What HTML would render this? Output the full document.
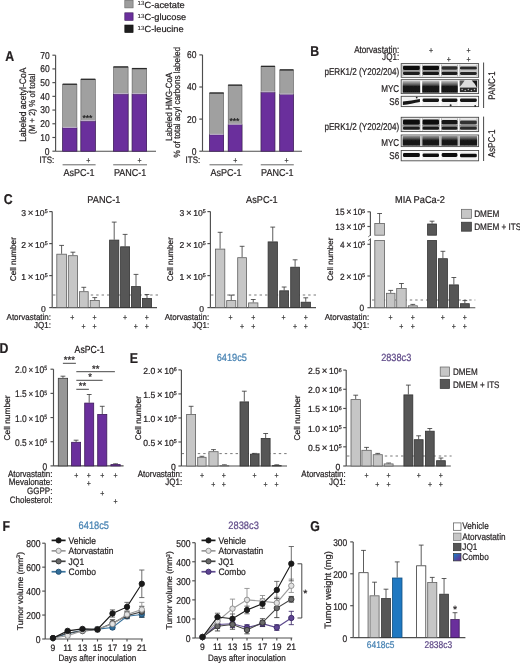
<!DOCTYPE html>
<html><head><meta charset="utf-8"><title>Figure</title>
<style>
html,body{margin:0;padding:0;background:#fff;}
body{width:520px;height:664px;overflow:hidden;}
svg{display:block;font-family:"Liberation Sans", Arial, sans-serif;text-rendering:geometricPrecision;}
</style></head><body>
<svg width="520" height="664" viewBox="0 0 520 664">
<rect width="520" height="664" fill="#fff"/>
<text transform="translate(5.20 60.50) scale(0.86 1)" font-size="14.30" text-anchor="start" fill="#231f20" stroke="#231f20" stroke-width="0.22" font-weight="bold">A</text>
<rect x="124.80" y="0.30" width="8.30" height="7.60" fill="#9d9d9d" stroke="#666" stroke-width="0.6"/>
<text transform="translate(137.60 7.70) scale(1.04 1)" font-size="8.94" text-anchor="start" fill="#231f20" stroke="#231f20" stroke-width="0.22"><tspan font-size="66%" dy="-0.40em" stroke-width="0.1">13</tspan><tspan dy="0.264em">C-acetate</tspan></text>
<rect x="124.80" y="12.80" width="8.30" height="7.60" fill="#6a2f9c" stroke="#3d1a5a" stroke-width="0.6"/>
<text transform="translate(137.60 20.20) scale(1.04 1)" font-size="8.94" text-anchor="start" fill="#231f20" stroke="#231f20" stroke-width="0.22"><tspan font-size="66%" dy="-0.40em" stroke-width="0.1">13</tspan><tspan dy="0.264em">C-glucose</tspan></text>
<rect x="124.80" y="25.00" width="8.30" height="7.60" fill="#1e1e1e" stroke="#111" stroke-width="0.6"/>
<text transform="translate(137.60 32.40) scale(1.04 1)" font-size="8.94" text-anchor="start" fill="#231f20" stroke="#231f20" stroke-width="0.22"><tspan font-size="66%" dy="-0.40em" stroke-width="0.1">13</tspan><tspan dy="0.264em">C-leucine</tspan></text>
<line x1="55.60" y1="55.20" x2="55.60" y2="151.20" stroke="#4e4e4e" stroke-width="1.15"/>
<line x1="52.40" y1="151.20" x2="55.60" y2="151.20" stroke="#4e4e4e" stroke-width="1.15"/>
<text transform="translate(49.60 154.60) scale(0.86 1)" font-size="9.88" text-anchor="end" fill="#231f20" stroke="#231f20" stroke-width="0.22">0</text>
<line x1="52.40" y1="137.49" x2="55.60" y2="137.49" stroke="#4e4e4e" stroke-width="1.15"/>
<text transform="translate(49.60 140.89) scale(0.86 1)" font-size="9.88" text-anchor="end" fill="#231f20" stroke="#231f20" stroke-width="0.22">10</text>
<line x1="52.40" y1="123.77" x2="55.60" y2="123.77" stroke="#4e4e4e" stroke-width="1.15"/>
<text transform="translate(49.60 127.17) scale(0.86 1)" font-size="9.88" text-anchor="end" fill="#231f20" stroke="#231f20" stroke-width="0.22">20</text>
<line x1="52.40" y1="110.06" x2="55.60" y2="110.06" stroke="#4e4e4e" stroke-width="1.15"/>
<text transform="translate(49.60 113.46) scale(0.86 1)" font-size="9.88" text-anchor="end" fill="#231f20" stroke="#231f20" stroke-width="0.22">30</text>
<line x1="52.40" y1="96.34" x2="55.60" y2="96.34" stroke="#4e4e4e" stroke-width="1.15"/>
<text transform="translate(49.60 99.74) scale(0.86 1)" font-size="9.88" text-anchor="end" fill="#231f20" stroke="#231f20" stroke-width="0.22">40</text>
<line x1="52.40" y1="82.63" x2="55.60" y2="82.63" stroke="#4e4e4e" stroke-width="1.15"/>
<text transform="translate(49.60 86.03) scale(0.86 1)" font-size="9.88" text-anchor="end" fill="#231f20" stroke="#231f20" stroke-width="0.22">50</text>
<line x1="52.40" y1="68.92" x2="55.60" y2="68.92" stroke="#4e4e4e" stroke-width="1.15"/>
<text transform="translate(49.60 72.32) scale(0.86 1)" font-size="9.88" text-anchor="end" fill="#231f20" stroke="#231f20" stroke-width="0.22">60</text>
<line x1="52.40" y1="55.20" x2="55.60" y2="55.20" stroke="#4e4e4e" stroke-width="1.15"/>
<text transform="translate(49.60 58.60) scale(0.86 1)" font-size="9.88" text-anchor="end" fill="#231f20" stroke="#231f20" stroke-width="0.22">70</text>
<line x1="55.60" y1="151.20" x2="156.00" y2="151.20" stroke="#4e4e4e" stroke-width="1.15"/>
<rect x="62.70" y="84.30" width="14.20" height="66.90" fill="#a0a0a0" stroke="#5a5a5a" stroke-width="0.6"/>
<rect x="62.70" y="127.89" width="14.20" height="23.31" fill="#6a2f9c" stroke="#3d1a5a" stroke-width="0.6"/>
<line x1="62.90" y1="127.39" x2="76.70" y2="127.39" stroke="#c4b8d0" stroke-width="1.0"/>
<line x1="62.70" y1="84.20" x2="76.90" y2="84.20" stroke="#2a2a2a" stroke-width="1.3"/>
<rect x="80.90" y="79.36" width="14.40" height="71.84" fill="#a0a0a0" stroke="#5a5a5a" stroke-width="0.6"/>
<rect x="80.90" y="121.17" width="14.40" height="30.03" fill="#6a2f9c" stroke="#3d1a5a" stroke-width="0.6"/>
<line x1="81.10" y1="120.67" x2="95.10" y2="120.67" stroke="#c4b8d0" stroke-width="1.0"/>
<line x1="80.90" y1="79.26" x2="95.30" y2="79.26" stroke="#2a2a2a" stroke-width="1.3"/>
<rect x="113.50" y="67.02" width="14.60" height="84.18" fill="#a0a0a0" stroke="#5a5a5a" stroke-width="0.6"/>
<rect x="113.50" y="94.15" width="14.60" height="57.05" fill="#6a2f9c" stroke="#3d1a5a" stroke-width="0.6"/>
<line x1="113.70" y1="93.65" x2="127.90" y2="93.65" stroke="#c4b8d0" stroke-width="1.0"/>
<line x1="113.50" y1="66.92" x2="128.10" y2="66.92" stroke="#2a2a2a" stroke-width="1.3"/>
<rect x="132.10" y="68.67" width="14.60" height="82.53" fill="#a0a0a0" stroke="#5a5a5a" stroke-width="0.6"/>
<rect x="132.10" y="94.15" width="14.60" height="57.05" fill="#6a2f9c" stroke="#3d1a5a" stroke-width="0.6"/>
<line x1="132.30" y1="93.65" x2="146.50" y2="93.65" stroke="#c4b8d0" stroke-width="1.0"/>
<line x1="132.10" y1="68.57" x2="146.70" y2="68.57" stroke="#2a2a2a" stroke-width="1.3"/>
<text transform="translate(54.20 162.60) scale(0.86 1)" font-size="9.30" text-anchor="end" fill="#231f20" stroke="#231f20" stroke-width="0.22">ITS:</text>
<text transform="translate(88.20 163.30) scale(0.86 1)" font-size="8.14" text-anchor="middle" fill="#333" stroke="#333" stroke-width="0.22">+</text>
<line x1="62.60" y1="164.80" x2="95.60" y2="164.80" stroke="#555" stroke-width="0.9"/>
<text transform="translate(79.10 176.00) scale(0.9 1)" font-size="10.00" text-anchor="middle" fill="#231f20" stroke="#231f20" stroke-width="0.22">AsPC-1</text>
<text transform="translate(139.60 163.30) scale(0.86 1)" font-size="8.14" text-anchor="middle" fill="#333" stroke="#333" stroke-width="0.22">+</text>
<line x1="113.20" y1="164.80" x2="147.00" y2="164.80" stroke="#555" stroke-width="0.9"/>
<text transform="translate(130.10 176.00) scale(0.9 1)" font-size="10.00" text-anchor="middle" fill="#231f20" stroke="#231f20" stroke-width="0.22">PANC-1</text>
<text transform="translate(26.40 104.70) rotate(-90) scale(0.9 1)" font-size="9.44" text-anchor="middle" fill="#231f20" stroke="#231f20" stroke-width="0.22">Labeled acetyl-CoA</text>
<text transform="translate(34.60 103.90) rotate(-90) scale(0.9 1)" font-size="8.78" text-anchor="middle" fill="#231f20" stroke="#231f20" stroke-width="0.22">(M + 2) % of total</text>
<text transform="translate(87.40 120.60) scale(1.0 1)" font-size="8.60" text-anchor="middle" fill="#1e1e1e" stroke="#1e1e1e" stroke-width="0.22">***</text>
<line x1="202.50" y1="54.90" x2="202.50" y2="151.20" stroke="#4e4e4e" stroke-width="1.15"/>
<line x1="199.30" y1="151.20" x2="202.50" y2="151.20" stroke="#4e4e4e" stroke-width="1.15"/>
<text transform="translate(196.50 154.60) scale(0.86 1)" font-size="9.88" text-anchor="end" fill="#231f20" stroke="#231f20" stroke-width="0.22">0</text>
<line x1="199.30" y1="119.10" x2="202.50" y2="119.10" stroke="#4e4e4e" stroke-width="1.15"/>
<text transform="translate(196.50 122.50) scale(0.86 1)" font-size="9.88" text-anchor="end" fill="#231f20" stroke="#231f20" stroke-width="0.22">20</text>
<line x1="199.30" y1="87.00" x2="202.50" y2="87.00" stroke="#4e4e4e" stroke-width="1.15"/>
<text transform="translate(196.50 90.40) scale(0.86 1)" font-size="9.88" text-anchor="end" fill="#231f20" stroke="#231f20" stroke-width="0.22">40</text>
<line x1="199.30" y1="54.90" x2="202.50" y2="54.90" stroke="#4e4e4e" stroke-width="1.15"/>
<text transform="translate(196.50 58.30) scale(0.86 1)" font-size="9.88" text-anchor="end" fill="#231f20" stroke="#231f20" stroke-width="0.22">60</text>
<line x1="202.50" y1="151.20" x2="302.00" y2="151.20" stroke="#4e4e4e" stroke-width="1.15"/>
<rect x="209.60" y="93.08" width="14.10" height="58.12" fill="#a0a0a0" stroke="#5a5a5a" stroke-width="0.6"/>
<rect x="209.60" y="134.83" width="14.10" height="16.37" fill="#6a2f9c" stroke="#3d1a5a" stroke-width="0.6"/>
<line x1="209.80" y1="134.33" x2="223.50" y2="134.33" stroke="#c4b8d0" stroke-width="1.0"/>
<line x1="209.60" y1="92.98" x2="223.70" y2="92.98" stroke="#2a2a2a" stroke-width="1.3"/>
<rect x="228.20" y="85.21" width="13.80" height="65.99" fill="#a0a0a0" stroke="#5a5a5a" stroke-width="0.6"/>
<rect x="228.20" y="124.72" width="13.80" height="26.48" fill="#6a2f9c" stroke="#3d1a5a" stroke-width="0.6"/>
<line x1="228.40" y1="124.22" x2="241.80" y2="124.22" stroke="#c4b8d0" stroke-width="1.0"/>
<line x1="228.20" y1="85.11" x2="242.00" y2="85.11" stroke="#2a2a2a" stroke-width="1.3"/>
<rect x="261.05" y="66.43" width="13.85" height="84.77" fill="#a0a0a0" stroke="#5a5a5a" stroke-width="0.6"/>
<rect x="261.05" y="92.30" width="13.85" height="58.90" fill="#6a2f9c" stroke="#3d1a5a" stroke-width="0.6"/>
<line x1="261.25" y1="91.80" x2="274.70" y2="91.80" stroke="#c4b8d0" stroke-width="1.0"/>
<line x1="261.05" y1="66.33" x2="274.90" y2="66.33" stroke="#2a2a2a" stroke-width="1.3"/>
<rect x="279.80" y="69.97" width="13.70" height="81.23" fill="#a0a0a0" stroke="#5a5a5a" stroke-width="0.6"/>
<rect x="279.80" y="94.54" width="13.70" height="56.66" fill="#6a2f9c" stroke="#3d1a5a" stroke-width="0.6"/>
<line x1="280.00" y1="94.04" x2="293.30" y2="94.04" stroke="#c4b8d0" stroke-width="1.0"/>
<line x1="279.80" y1="69.87" x2="293.50" y2="69.87" stroke="#2a2a2a" stroke-width="1.3"/>
<text transform="translate(200.20 162.60) scale(0.86 1)" font-size="9.30" text-anchor="end" fill="#231f20" stroke="#231f20" stroke-width="0.22">ITS:</text>
<text transform="translate(235.20 163.30) scale(0.86 1)" font-size="8.14" text-anchor="middle" fill="#333" stroke="#333" stroke-width="0.22">+</text>
<line x1="209.50" y1="164.80" x2="242.50" y2="164.80" stroke="#555" stroke-width="0.9"/>
<text transform="translate(226.00 176.00) scale(0.9 1)" font-size="10.00" text-anchor="middle" fill="#231f20" stroke="#231f20" stroke-width="0.22">AsPC-1</text>
<text transform="translate(286.50 163.30) scale(0.86 1)" font-size="8.14" text-anchor="middle" fill="#333" stroke="#333" stroke-width="0.22">+</text>
<line x1="260.75" y1="164.80" x2="293.80" y2="164.80" stroke="#555" stroke-width="0.9"/>
<text transform="translate(277.27 176.00) scale(0.9 1)" font-size="10.00" text-anchor="middle" fill="#231f20" stroke="#231f20" stroke-width="0.22">PANC-1</text>
<text transform="translate(171.80 106.80) rotate(-90) scale(0.9 1)" font-size="9.00" text-anchor="middle" fill="#231f20" stroke="#231f20" stroke-width="0.22">Labeled HMG-CoA</text>
<text transform="translate(180.00 102.20) rotate(-90) scale(0.9 1)" font-size="9.06" text-anchor="middle" fill="#231f20" stroke="#231f20" stroke-width="0.22">% of total acyl carbons labeled</text>
<text transform="translate(234.40 124.20) scale(1.0 1)" font-size="8.60" text-anchor="middle" fill="#1e1e1e" stroke="#1e1e1e" stroke-width="0.22">***</text>
<text transform="translate(310.20 55.50) scale(0.86 1)" font-size="14.30" text-anchor="start" fill="#231f20" stroke="#231f20" stroke-width="0.22" font-weight="bold">B</text>
<text transform="translate(399.20 53.20) scale(0.82 1)" font-size="9.88" text-anchor="end" fill="#231f20" stroke="#231f20" stroke-width="0.22">Atorvastatin:</text>
<text transform="translate(399.20 60.40) scale(0.82 1)" font-size="9.88" text-anchor="end" fill="#231f20" stroke="#231f20" stroke-width="0.22">JQ1:</text>
<text transform="translate(431.00 53.40) scale(0.86 1)" font-size="8.14" text-anchor="middle" fill="#333" stroke="#333" stroke-width="0.22">+</text>
<text transform="translate(468.50 53.40) scale(0.86 1)" font-size="8.14" text-anchor="middle" fill="#333" stroke="#333" stroke-width="0.22">+</text>
<text transform="translate(448.90 62.10) scale(0.86 1)" font-size="8.14" text-anchor="middle" fill="#333" stroke="#333" stroke-width="0.22">+</text>
<text transform="translate(468.50 62.10) scale(0.86 1)" font-size="8.14" text-anchor="middle" fill="#333" stroke="#333" stroke-width="0.22">+</text>
<defs><filter id="bl" x="-5%" y="-20%" width="110%" height="140%"><feGaussianBlur stdDeviation="0.45"/></filter><linearGradient id="mycg" x1="0" y1="0" x2="0" y2="1"><stop offset="0" stop-color="#c8c8c8"/><stop offset="0.35" stop-color="#555"/><stop offset="0.5" stop-color="#141414"/><stop offset="1" stop-color="#111"/></linearGradient><linearGradient id="mycg2" x1="0" y1="0" x2="0" y2="1"><stop offset="0" stop-color="#9a9a9a"/><stop offset="0.3" stop-color="#4a4a4a"/><stop offset="0.45" stop-color="#1a1a1a"/><stop offset="1" stop-color="#161616"/></linearGradient></defs>
<rect x="401.20" y="63.60" width="77.40" height="13.70" fill="#ffffff" stroke="#4a4a4a" stroke-width="0.9"/>
<g filter="url(#bl)">
<rect x="402.60" y="64.60" width="17.60" height="11.70" fill="#e2e2e2"/>
<line x1="402.80" y1="64.60" x2="402.80" y2="76.30" stroke="#777" stroke-width="0.5"/>
<line x1="420.00" y1="64.60" x2="420.00" y2="76.30" stroke="#777" stroke-width="0.5"/>
<rect x="402.60" y="69.80" width="17.60" height="2.00" fill="#9a9a9a"/>
<rect x="403.00" y="65.80" width="16.80" height="4.20" rx="1.3" fill="#111"/>
<rect x="403.00" y="71.70" width="16.80" height="3.20" rx="1.3" fill="#1a1a1a"/>
<rect x="422.20" y="64.60" width="17.20" height="11.70" fill="#e2e2e2"/>
<line x1="422.40" y1="64.60" x2="422.40" y2="76.30" stroke="#777" stroke-width="0.5"/>
<line x1="439.20" y1="64.60" x2="439.20" y2="76.30" stroke="#777" stroke-width="0.5"/>
<rect x="422.20" y="69.80" width="17.20" height="2.00" fill="#949494"/>
<rect x="422.60" y="65.70" width="16.40" height="4.40" rx="1.3" fill="#0e0e0e"/>
<rect x="422.60" y="71.65" width="16.40" height="3.30" rx="1.3" fill="#161616"/>
<rect x="441.30" y="64.60" width="16.50" height="11.70" fill="#e2e2e2"/>
<line x1="441.50" y1="64.60" x2="441.50" y2="76.30" stroke="#777" stroke-width="0.5"/>
<line x1="457.60" y1="64.60" x2="457.60" y2="76.30" stroke="#777" stroke-width="0.5"/>
<rect x="441.30" y="69.80" width="16.50" height="2.00" fill="#b0b0b0"/>
<rect x="441.70" y="66.20" width="15.70" height="3.60" rx="1.3" fill="#2e2e2e"/>
<rect x="441.70" y="71.65" width="15.70" height="3.30" rx="1.3" fill="#1e1e1e"/>
<rect x="459.60" y="64.60" width="17.60" height="11.70" fill="#e2e2e2"/>
<line x1="459.80" y1="64.60" x2="459.80" y2="76.30" stroke="#777" stroke-width="0.5"/>
<line x1="477.00" y1="64.60" x2="477.00" y2="76.30" stroke="#777" stroke-width="0.5"/>
<rect x="459.60" y="69.80" width="17.60" height="2.00" fill="#c0c0c0"/>
<rect x="460.00" y="66.60" width="16.80" height="3.00" rx="1.3" fill="#2a2a2a"/>
<rect x="460.00" y="71.90" width="16.80" height="3.00" rx="1.3" fill="#262626"/>
</g>
<text transform="translate(399.20 75.40) scale(0.82 1)" font-size="9.88" text-anchor="end" fill="#231f20" stroke="#231f20" stroke-width="0.22">pERK1/2 (Y202/204)</text>
<rect x="401.20" y="79.70" width="77.40" height="13.90" fill="#ffffff" stroke="#4a4a4a" stroke-width="0.9"/>
<g filter="url(#bl)">
<rect x="402.60" y="80.60" width="17.60" height="12.10" fill="url(#mycg)"/>
<rect x="422.20" y="80.60" width="17.20" height="12.10" fill="url(#mycg)"/>
<rect x="441.30" y="80.60" width="16.50" height="12.10" fill="url(#mycg)"/>
<rect x="459.60" y="80.60" width="17.60" height="12.10" fill="#dcdcdc"/>
<path d="M459.6 80.60000000000001 L464.6 80.60000000000001 L461.6 84.7 L459.6 86.7 Z" stroke="none" stroke-width="0" fill="#555"/>
<path d="M471.7 80.60000000000001 L477.2 80.60000000000001 L477.2 88.2 L474.7 83.7 Z" stroke="none" stroke-width="0" fill="#151515"/>
<rect x="459.90" y="87.60" width="17.00" height="4.40" fill="#2a2a2a"/>
<circle cx="462.10" cy="89.60" r="0.75" fill="#bbb"/>
<circle cx="465.20" cy="90.40" r="0.75" fill="#bbb"/>
<circle cx="468.30" cy="89.60" r="0.75" fill="#bbb"/>
<circle cx="471.40" cy="90.40" r="0.75" fill="#bbb"/>
<circle cx="474.50" cy="89.60" r="0.75" fill="#bbb"/>
</g>
<text transform="translate(399.20 91.70) scale(0.82 1)" font-size="9.88" text-anchor="end" fill="#231f20" stroke="#231f20" stroke-width="0.22">MYC</text>
<rect x="401.20" y="96.30" width="77.40" height="10.30" fill="#ffffff" stroke="#4a4a4a" stroke-width="0.9"/>
<g filter="url(#bl)">
<rect x="402.60" y="97.20" width="17.60" height="8.50" fill="#f2f2f2"/>
<path d="M402.90000000000003 101.5 C 408.6 101.0, 414.2 100.0, 419.9 98.9 L419.9 101.9 C 414.2 102.8, 408.6 104.4, 402.90000000000003 105.0 Z" stroke="none" stroke-width="0" fill="#141414"/>
<circle cx="416.7" cy="97.6" r="0.9" fill="#222"/>
<rect x="422.20" y="97.20" width="17.20" height="8.50" fill="#f2f2f2"/>
<rect x="422.60" y="98.50" width="16.40" height="3.40" rx="1.3" fill="#151515"/>
<rect x="441.30" y="97.20" width="16.50" height="8.50" fill="#f2f2f2"/>
<rect x="441.70" y="98.50" width="15.70" height="3.40" rx="1.3" fill="#151515"/>
<circle cx="450.6" cy="105.3" r="1.0" fill="#222"/>
<rect x="459.60" y="97.20" width="17.60" height="8.50" fill="#f2f2f2"/>
<rect x="460.00" y="98.50" width="16.80" height="3.40" rx="1.3" fill="#151515"/>
<circle cx="475.2" cy="106.0" r="0.9" fill="#222"/>
</g>
<text transform="translate(399.20 105.40) scale(0.82 1)" font-size="9.88" text-anchor="end" fill="#231f20" stroke="#231f20" stroke-width="0.22">S6</text>
<rect x="401.20" y="117.30" width="77.40" height="14.30" fill="#ffffff" stroke="#4a4a4a" stroke-width="0.9"/>
<g filter="url(#bl)">
<rect x="402.60" y="118.30" width="17.60" height="12.30" fill="#e2e2e2"/>
<line x1="402.80" y1="118.30" x2="402.80" y2="130.60" stroke="#777" stroke-width="0.5"/>
<line x1="420.00" y1="118.30" x2="420.00" y2="130.60" stroke="#777" stroke-width="0.5"/>
<rect x="402.60" y="125.00" width="17.60" height="1.40" fill="#8e8e8e"/>
<rect x="403.00" y="119.60" width="16.80" height="5.20" rx="1.3" fill="#0c0c0c"/>
<rect x="403.00" y="126.50" width="16.80" height="3.20" rx="1.3" fill="#1c1c1c"/>
<rect x="422.20" y="118.30" width="17.20" height="12.30" fill="#e2e2e2"/>
<line x1="422.40" y1="118.30" x2="422.40" y2="130.60" stroke="#777" stroke-width="0.5"/>
<line x1="439.20" y1="118.30" x2="439.20" y2="130.60" stroke="#777" stroke-width="0.5"/>
<rect x="422.20" y="125.00" width="17.20" height="1.40" fill="#8e8e8e"/>
<rect x="422.60" y="119.60" width="16.40" height="5.20" rx="1.3" fill="#0e0e0e"/>
<rect x="422.60" y="126.40" width="16.40" height="3.40" rx="1.3" fill="#141414"/>
<rect x="441.30" y="118.30" width="16.50" height="12.30" fill="#e2e2e2"/>
<line x1="441.50" y1="118.30" x2="441.50" y2="130.60" stroke="#777" stroke-width="0.5"/>
<line x1="457.60" y1="118.30" x2="457.60" y2="130.60" stroke="#777" stroke-width="0.5"/>
<rect x="441.30" y="125.00" width="16.50" height="1.40" fill="#8e8e8e"/>
<rect x="441.70" y="120.00" width="15.70" height="4.60" rx="1.3" fill="#161616"/>
<rect x="441.70" y="126.40" width="15.70" height="3.40" rx="1.3" fill="#1a1a1a"/>
<rect x="459.60" y="118.30" width="17.60" height="12.30" fill="#e2e2e2"/>
<line x1="459.80" y1="118.30" x2="459.80" y2="130.60" stroke="#777" stroke-width="0.5"/>
<line x1="477.00" y1="118.30" x2="477.00" y2="130.60" stroke="#777" stroke-width="0.5"/>
<rect x="459.60" y="125.00" width="17.60" height="1.40" fill="#8e8e8e"/>
<rect x="460.00" y="120.40" width="16.80" height="4.00" rx="1.3" fill="#333333"/>
<rect x="460.00" y="126.60" width="16.80" height="3.20" rx="1.3" fill="#2a2a2a"/>
</g>
<text transform="translate(399.20 130.00) scale(0.82 1)" font-size="9.88" text-anchor="end" fill="#231f20" stroke="#231f20" stroke-width="0.22">pERK1/2 (Y202/204)</text>
<rect x="401.20" y="135.00" width="77.40" height="11.60" fill="#ffffff" stroke="#4a4a4a" stroke-width="0.9"/>
<g filter="url(#bl)">
<rect x="402.60" y="135.90" width="17.60" height="9.80" fill="url(#mycg2)"/>
<rect x="422.20" y="135.90" width="17.20" height="9.80" fill="url(#mycg2)"/>
<rect x="441.30" y="135.90" width="16.50" height="9.80" fill="url(#mycg2)"/>
<rect x="459.60" y="135.90" width="17.60" height="9.80" fill="url(#mycg2)"/>
</g>
<rect x="420.20" y="135.90" width="2.00" height="9.80" fill="#b8b8b8"/>
<rect x="439.40" y="135.90" width="1.90" height="9.80" fill="#b8b8b8"/>
<rect x="457.80" y="135.90" width="1.80" height="9.80" fill="#b8b8b8"/>
<text transform="translate(399.20 145.60) scale(0.82 1)" font-size="9.88" text-anchor="end" fill="#231f20" stroke="#231f20" stroke-width="0.22">MYC</text>
<rect x="401.20" y="150.50" width="77.40" height="10.30" fill="#ffffff" stroke="#4a4a4a" stroke-width="0.9"/>
<g filter="url(#bl)">
<rect x="402.60" y="151.40" width="17.60" height="8.50" fill="#f2f2f2"/>
<rect x="403.00" y="153.00" width="16.80" height="4.00" rx="1.3" fill="#0f0f0f"/>
<rect x="422.20" y="151.40" width="17.20" height="8.50" fill="#f2f2f2"/>
<rect x="422.60" y="153.40" width="16.40" height="3.60" rx="1.3" fill="#0f0f0f"/>
<rect x="441.30" y="151.40" width="16.50" height="8.50" fill="#f2f2f2"/>
<rect x="441.70" y="153.10" width="15.70" height="3.80" rx="1.3" fill="#0f0f0f"/>
<rect x="459.60" y="151.40" width="17.60" height="8.50" fill="#f2f2f2"/>
<rect x="460.00" y="153.80" width="16.80" height="3.40" rx="1.3" fill="#0f0f0f"/>
</g>
<text transform="translate(399.20 159.30) scale(0.82 1)" font-size="9.88" text-anchor="end" fill="#231f20" stroke="#231f20" stroke-width="0.22">S6</text>
<line x1="483.60" y1="62.50" x2="483.60" y2="108.00" stroke="#333" stroke-width="0.9"/>
<line x1="483.60" y1="116.60" x2="483.60" y2="161.00" stroke="#333" stroke-width="0.9"/>
<text transform="translate(494.60 85.50) rotate(-90) scale(0.82 1)" font-size="9.63" text-anchor="middle" fill="#231f20" stroke="#231f20" stroke-width="0.22">PANC-1</text>
<text transform="translate(494.60 143.50) rotate(-90) scale(0.82 1)" font-size="9.88" text-anchor="middle" fill="#231f20" stroke="#231f20" stroke-width="0.22">AsPC-1</text>
<text transform="translate(3.80 204.30) scale(0.86 1)" font-size="14.30" text-anchor="start" fill="#231f20" stroke="#231f20" stroke-width="0.22" font-weight="bold">C</text>
<text transform="translate(45.90 311.60) scale(1.0 1)" font-size="8.60" text-anchor="end" fill="#231f20" stroke="#231f20" stroke-width="0.22">0</text>
<line x1="49.20" y1="307.60" x2="52.20" y2="307.60" stroke="#4e4e4e" stroke-width="1.15"/>
<line x1="53.00" y1="295.00" x2="158.00" y2="295.00" stroke="#555" stroke-width="0.8" stroke-dasharray="2.4,3.0"/>
<line x1="52.20" y1="211.60" x2="52.20" y2="307.60" stroke="#4e4e4e" stroke-width="1.15"/>
<line x1="49.20" y1="275.60" x2="52.20" y2="275.60" stroke="#4e4e4e" stroke-width="1.15"/>
<text transform="translate(47.60 279.60) scale(1.0 1)" font-size="8.60" text-anchor="end" fill="#231f20" stroke="#231f20" stroke-width="0.22">1 <tspan font-size="112%">×</tspan> 10<tspan font-size="62%" dy="-0.46em">5</tspan></text>
<line x1="49.20" y1="243.60" x2="52.20" y2="243.60" stroke="#4e4e4e" stroke-width="1.15"/>
<text transform="translate(47.60 247.60) scale(1.0 1)" font-size="8.60" text-anchor="end" fill="#231f20" stroke="#231f20" stroke-width="0.22">2 <tspan font-size="112%">×</tspan> 10<tspan font-size="62%" dy="-0.46em">5</tspan></text>
<line x1="49.20" y1="211.60" x2="52.20" y2="211.60" stroke="#4e4e4e" stroke-width="1.15"/>
<text transform="translate(47.60 215.60) scale(1.0 1)" font-size="8.60" text-anchor="end" fill="#231f20" stroke="#231f20" stroke-width="0.22">3 <tspan font-size="112%">×</tspan> 10<tspan font-size="62%" dy="-0.46em">5</tspan></text>
<line x1="52.20" y1="307.60" x2="157.00" y2="307.60" stroke="#4e4e4e" stroke-width="1.15"/>
<line x1="61.60" y1="253.80" x2="61.60" y2="245.40" stroke="#333" stroke-width="0.8"/>
<line x1="59.20" y1="245.40" x2="64.00" y2="245.40" stroke="#333" stroke-width="0.8"/>
<rect x="56.80" y="254.20" width="9.60" height="53.40" fill="#c6c6c6" stroke="#606060" stroke-width="0.8"/>
<line x1="72.90" y1="255.30" x2="72.90" y2="252.20" stroke="#333" stroke-width="0.8"/>
<line x1="70.50" y1="252.20" x2="75.30" y2="252.20" stroke="#333" stroke-width="0.8"/>
<rect x="68.30" y="255.70" width="9.20" height="51.90" fill="#c6c6c6" stroke="#606060" stroke-width="0.8"/>
<line x1="83.80" y1="291.30" x2="83.80" y2="287.30" stroke="#333" stroke-width="0.8"/>
<line x1="81.40" y1="287.30" x2="86.20" y2="287.30" stroke="#333" stroke-width="0.8"/>
<rect x="79.40" y="291.70" width="8.80" height="15.90" fill="#c6c6c6" stroke="#606060" stroke-width="0.8"/>
<line x1="94.75" y1="300.00" x2="94.75" y2="297.60" stroke="#333" stroke-width="0.8"/>
<line x1="92.35" y1="297.60" x2="97.15" y2="297.60" stroke="#333" stroke-width="0.8"/>
<rect x="90.20" y="300.40" width="9.10" height="7.20" fill="#c6c6c6" stroke="#606060" stroke-width="0.8"/>
<line x1="114.20" y1="239.70" x2="114.20" y2="222.10" stroke="#333" stroke-width="0.8"/>
<line x1="111.80" y1="222.10" x2="116.60" y2="222.10" stroke="#333" stroke-width="0.8"/>
<rect x="109.60" y="240.10" width="9.20" height="67.50" fill="#565656" stroke="#333333" stroke-width="0.8"/>
<line x1="125.10" y1="246.40" x2="125.10" y2="234.40" stroke="#333" stroke-width="0.8"/>
<line x1="122.70" y1="234.40" x2="127.50" y2="234.40" stroke="#333" stroke-width="0.8"/>
<rect x="120.60" y="246.80" width="9.00" height="60.80" fill="#565656" stroke="#333333" stroke-width="0.8"/>
<line x1="136.00" y1="286.20" x2="136.00" y2="274.40" stroke="#333" stroke-width="0.8"/>
<line x1="133.60" y1="274.40" x2="138.40" y2="274.40" stroke="#333" stroke-width="0.8"/>
<rect x="131.40" y="286.60" width="9.20" height="21.00" fill="#565656" stroke="#333333" stroke-width="0.8"/>
<line x1="147.00" y1="298.00" x2="147.00" y2="294.50" stroke="#333" stroke-width="0.8"/>
<line x1="144.60" y1="294.50" x2="149.40" y2="294.50" stroke="#333" stroke-width="0.8"/>
<rect x="142.40" y="298.40" width="9.20" height="9.20" fill="#565656" stroke="#333333" stroke-width="0.8"/>
<text transform="translate(103.80 202.60) scale(0.93 1)" font-size="9.89" text-anchor="middle" fill="#231f20" stroke="#231f20" stroke-width="0.22">PANC-1</text>
<text transform="translate(16.20 259.20) rotate(-90) scale(1.0 1)" font-size="8.20" text-anchor="middle" fill="#231f20" stroke="#231f20" stroke-width="0.22">Cell number</text>
<text transform="translate(51.00 319.80) scale(0.92 1)" font-size="8.70" text-anchor="end" fill="#231f20" stroke="#231f20" stroke-width="0.22">Atorvastatin:</text>
<text transform="translate(51.00 328.10) scale(0.92 1)" font-size="8.70" text-anchor="end" fill="#231f20" stroke="#231f20" stroke-width="0.22">JQ1:</text>
<text transform="translate(72.20 320.10) scale(0.86 1)" font-size="8.14" text-anchor="middle" fill="#333" stroke="#333" stroke-width="0.22">+</text>
<text transform="translate(94.50 320.10) scale(0.86 1)" font-size="8.14" text-anchor="middle" fill="#333" stroke="#333" stroke-width="0.22">+</text>
<text transform="translate(125.10 320.10) scale(0.86 1)" font-size="8.14" text-anchor="middle" fill="#333" stroke="#333" stroke-width="0.22">+</text>
<text transform="translate(146.90 320.10) scale(0.86 1)" font-size="8.14" text-anchor="middle" fill="#333" stroke="#333" stroke-width="0.22">+</text>
<text transform="translate(83.50 329.20) scale(0.86 1)" font-size="8.14" text-anchor="middle" fill="#333" stroke="#333" stroke-width="0.22">+</text>
<text transform="translate(94.50 329.20) scale(0.86 1)" font-size="8.14" text-anchor="middle" fill="#333" stroke="#333" stroke-width="0.22">+</text>
<text transform="translate(135.80 329.20) scale(0.86 1)" font-size="8.14" text-anchor="middle" fill="#333" stroke="#333" stroke-width="0.22">+</text>
<text transform="translate(146.90 329.20) scale(0.86 1)" font-size="8.14" text-anchor="middle" fill="#333" stroke="#333" stroke-width="0.22">+</text>
<text transform="translate(204.10 311.60) scale(1.0 1)" font-size="8.60" text-anchor="end" fill="#231f20" stroke="#231f20" stroke-width="0.22">0</text>
<line x1="207.40" y1="307.60" x2="210.40" y2="307.60" stroke="#4e4e4e" stroke-width="1.15"/>
<line x1="211.00" y1="295.00" x2="318.00" y2="295.00" stroke="#555" stroke-width="0.8" stroke-dasharray="2.4,3.0"/>
<line x1="210.40" y1="211.60" x2="210.40" y2="307.60" stroke="#4e4e4e" stroke-width="1.15"/>
<line x1="207.40" y1="275.60" x2="210.40" y2="275.60" stroke="#4e4e4e" stroke-width="1.15"/>
<text transform="translate(205.80 279.60) scale(1.0 1)" font-size="8.60" text-anchor="end" fill="#231f20" stroke="#231f20" stroke-width="0.22">1 <tspan font-size="112%">×</tspan> 10<tspan font-size="62%" dy="-0.46em">5</tspan></text>
<line x1="207.40" y1="243.60" x2="210.40" y2="243.60" stroke="#4e4e4e" stroke-width="1.15"/>
<text transform="translate(205.80 247.60) scale(1.0 1)" font-size="8.60" text-anchor="end" fill="#231f20" stroke="#231f20" stroke-width="0.22">2 <tspan font-size="112%">×</tspan> 10<tspan font-size="62%" dy="-0.46em">5</tspan></text>
<line x1="207.40" y1="211.60" x2="210.40" y2="211.60" stroke="#4e4e4e" stroke-width="1.15"/>
<text transform="translate(205.80 215.60) scale(1.0 1)" font-size="8.60" text-anchor="end" fill="#231f20" stroke="#231f20" stroke-width="0.22">3 <tspan font-size="112%">×</tspan> 10<tspan font-size="62%" dy="-0.46em">5</tspan></text>
<line x1="210.40" y1="307.60" x2="316.00" y2="307.60" stroke="#4e4e4e" stroke-width="1.15"/>
<line x1="220.10" y1="248.70" x2="220.10" y2="232.30" stroke="#333" stroke-width="0.8"/>
<line x1="217.70" y1="232.30" x2="222.50" y2="232.30" stroke="#333" stroke-width="0.8"/>
<rect x="215.40" y="249.10" width="9.40" height="58.50" fill="#c6c6c6" stroke="#606060" stroke-width="0.8"/>
<line x1="231.25" y1="300.20" x2="231.25" y2="295.10" stroke="#333" stroke-width="0.8"/>
<line x1="228.85" y1="295.10" x2="233.65" y2="295.10" stroke="#333" stroke-width="0.8"/>
<rect x="226.70" y="300.60" width="9.10" height="7.00" fill="#c6c6c6" stroke="#606060" stroke-width="0.8"/>
<line x1="242.10" y1="257.30" x2="242.10" y2="246.30" stroke="#333" stroke-width="0.8"/>
<line x1="239.70" y1="246.30" x2="244.50" y2="246.30" stroke="#333" stroke-width="0.8"/>
<rect x="237.70" y="257.70" width="8.80" height="49.90" fill="#c6c6c6" stroke="#606060" stroke-width="0.8"/>
<line x1="253.25" y1="302.50" x2="253.25" y2="299.50" stroke="#333" stroke-width="0.8"/>
<line x1="250.85" y1="299.50" x2="255.65" y2="299.50" stroke="#333" stroke-width="0.8"/>
<rect x="248.60" y="302.90" width="9.30" height="4.70" fill="#c6c6c6" stroke="#606060" stroke-width="0.8"/>
<line x1="272.75" y1="241.50" x2="272.75" y2="227.10" stroke="#333" stroke-width="0.8"/>
<line x1="270.35" y1="227.10" x2="275.15" y2="227.10" stroke="#333" stroke-width="0.8"/>
<rect x="268.10" y="241.90" width="9.30" height="65.70" fill="#565656" stroke="#333333" stroke-width="0.8"/>
<line x1="284.15" y1="290.40" x2="284.15" y2="287.00" stroke="#333" stroke-width="0.8"/>
<line x1="281.75" y1="287.00" x2="286.55" y2="287.00" stroke="#333" stroke-width="0.8"/>
<rect x="279.70" y="290.80" width="8.90" height="16.80" fill="#565656" stroke="#333333" stroke-width="0.8"/>
<line x1="295.10" y1="266.80" x2="295.10" y2="259.80" stroke="#333" stroke-width="0.8"/>
<line x1="292.70" y1="259.80" x2="297.50" y2="259.80" stroke="#333" stroke-width="0.8"/>
<rect x="290.70" y="267.20" width="8.80" height="40.40" fill="#565656" stroke="#333333" stroke-width="0.8"/>
<line x1="305.75" y1="301.80" x2="305.75" y2="297.80" stroke="#333" stroke-width="0.8"/>
<line x1="303.35" y1="297.80" x2="308.15" y2="297.80" stroke="#333" stroke-width="0.8"/>
<rect x="301.10" y="302.20" width="9.30" height="5.40" fill="#565656" stroke="#333333" stroke-width="0.8"/>
<text transform="translate(261.90 202.60) scale(0.93 1)" font-size="9.89" text-anchor="middle" fill="#231f20" stroke="#231f20" stroke-width="0.22">AsPC-1</text>
<text transform="translate(173.00 259.20) rotate(-90) scale(1.0 1)" font-size="8.20" text-anchor="middle" fill="#231f20" stroke="#231f20" stroke-width="0.22">Cell number</text>
<text transform="translate(209.20 319.80) scale(0.92 1)" font-size="8.70" text-anchor="end" fill="#231f20" stroke="#231f20" stroke-width="0.22">Atorvastatin:</text>
<text transform="translate(209.20 328.10) scale(0.92 1)" font-size="8.70" text-anchor="end" fill="#231f20" stroke="#231f20" stroke-width="0.22">JQ1:</text>
<text transform="translate(230.60 320.10) scale(0.86 1)" font-size="8.14" text-anchor="middle" fill="#333" stroke="#333" stroke-width="0.22">+</text>
<text transform="translate(253.30 320.10) scale(0.86 1)" font-size="8.14" text-anchor="middle" fill="#333" stroke="#333" stroke-width="0.22">+</text>
<text transform="translate(283.60 320.10) scale(0.86 1)" font-size="8.14" text-anchor="middle" fill="#333" stroke="#333" stroke-width="0.22">+</text>
<text transform="translate(305.70 320.10) scale(0.86 1)" font-size="8.14" text-anchor="middle" fill="#333" stroke="#333" stroke-width="0.22">+</text>
<text transform="translate(242.10 329.20) scale(0.86 1)" font-size="8.14" text-anchor="middle" fill="#333" stroke="#333" stroke-width="0.22">+</text>
<text transform="translate(253.30 329.20) scale(0.86 1)" font-size="8.14" text-anchor="middle" fill="#333" stroke="#333" stroke-width="0.22">+</text>
<text transform="translate(295.10 329.20) scale(0.86 1)" font-size="8.14" text-anchor="middle" fill="#333" stroke="#333" stroke-width="0.22">+</text>
<text transform="translate(305.70 329.20) scale(0.86 1)" font-size="8.14" text-anchor="middle" fill="#333" stroke="#333" stroke-width="0.22">+</text>
<line x1="372.00" y1="300.00" x2="475.30" y2="300.00" stroke="#555" stroke-width="0.8" stroke-dasharray="2.4,3.0"/>
<line x1="370.40" y1="211.80" x2="370.40" y2="235.70" stroke="#4e4e4e" stroke-width="1.15"/>
<line x1="370.40" y1="239.00" x2="370.40" y2="307.70" stroke="#4e4e4e" stroke-width="1.15"/>
<line x1="370.40" y1="307.70" x2="475.30" y2="307.70" stroke="#4e4e4e" stroke-width="1.15"/>
<line x1="367.40" y1="307.70" x2="370.40" y2="307.70" stroke="#4e4e4e" stroke-width="1.15"/>
<text transform="translate(364.00 311.20) scale(0.92 1)" font-size="9.02" text-anchor="end" fill="#231f20" stroke="#231f20" stroke-width="0.22">0</text>
<line x1="367.40" y1="276.00" x2="370.40" y2="276.00" stroke="#4e4e4e" stroke-width="1.15"/>
<text transform="translate(365.20 279.50) scale(0.92 1)" font-size="9.02" text-anchor="end" fill="#231f20" stroke="#231f20" stroke-width="0.22">2 <tspan font-size="108%">×</tspan> 10<tspan font-size="62%" dy="-0.46em">5</tspan></text>
<line x1="367.40" y1="244.30" x2="370.40" y2="244.30" stroke="#4e4e4e" stroke-width="1.15"/>
<text transform="translate(365.20 247.80) scale(0.92 1)" font-size="9.02" text-anchor="end" fill="#231f20" stroke="#231f20" stroke-width="0.22">4 <tspan font-size="108%">×</tspan> 10<tspan font-size="62%" dy="-0.46em">5</tspan></text>
<line x1="367.40" y1="226.50" x2="370.40" y2="226.50" stroke="#4e4e4e" stroke-width="1.15"/>
<text transform="translate(365.20 230.00) scale(0.92 1)" font-size="9.02" text-anchor="end" fill="#231f20" stroke="#231f20" stroke-width="0.22">13 <tspan font-size="108%">×</tspan> 10<tspan font-size="62%" dy="-0.46em">5</tspan></text>
<line x1="367.40" y1="211.80" x2="370.40" y2="211.80" stroke="#4e4e4e" stroke-width="1.15"/>
<text transform="translate(365.20 215.30) scale(0.92 1)" font-size="9.02" text-anchor="end" fill="#231f20" stroke="#231f20" stroke-width="0.22">15 <tspan font-size="108%">×</tspan> 10<tspan font-size="62%" dy="-0.46em">5</tspan></text>
<path d="M368.2 236.9 L371.0 234.6 M368.2 240.6 L371.0 238.3" stroke="#4e4e4e" stroke-width="0.8" fill="none"/>
<line x1="379.60" y1="223.10" x2="379.60" y2="213.50" stroke="#333" stroke-width="0.8"/>
<line x1="377.20" y1="213.50" x2="382.00" y2="213.50" stroke="#333" stroke-width="0.8"/>
<rect x="374.80" y="223.50" width="9.60" height="11.70" fill="#c6c6c6" stroke="#606060" stroke-width="0.8"/>
<rect x="374.80" y="240.50" width="9.60" height="67.20" fill="#c6c6c6" stroke="#606060" stroke-width="0.8"/>
<line x1="390.70" y1="292.90" x2="390.70" y2="290.40" stroke="#333" stroke-width="0.8"/>
<line x1="388.30" y1="290.40" x2="393.10" y2="290.40" stroke="#333" stroke-width="0.8"/>
<rect x="386.40" y="293.30" width="8.60" height="14.40" fill="#c6c6c6" stroke="#606060" stroke-width="0.8"/>
<line x1="401.45" y1="288.10" x2="401.45" y2="283.50" stroke="#333" stroke-width="0.8"/>
<line x1="399.05" y1="283.50" x2="403.85" y2="283.50" stroke="#333" stroke-width="0.8"/>
<rect x="396.70" y="288.50" width="9.50" height="19.20" fill="#c6c6c6" stroke="#606060" stroke-width="0.8"/>
<line x1="412.80" y1="305.40" x2="412.80" y2="304.40" stroke="#333" stroke-width="0.8"/>
<line x1="410.40" y1="304.40" x2="415.20" y2="304.40" stroke="#333" stroke-width="0.8"/>
<rect x="408.30" y="305.80" width="9.00" height="1.90" fill="#c6c6c6" stroke="#606060" stroke-width="0.8"/>
<line x1="432.05" y1="223.60" x2="432.05" y2="221.20" stroke="#333" stroke-width="0.8"/>
<line x1="429.65" y1="221.20" x2="434.45" y2="221.20" stroke="#333" stroke-width="0.8"/>
<rect x="427.60" y="224.00" width="8.90" height="11.20" fill="#565656" stroke="#333333" stroke-width="0.8"/>
<rect x="427.60" y="240.50" width="8.90" height="67.20" fill="#565656" stroke="#333333" stroke-width="0.8"/>
<line x1="442.90" y1="258.30" x2="442.90" y2="251.30" stroke="#333" stroke-width="0.8"/>
<line x1="440.50" y1="251.30" x2="445.30" y2="251.30" stroke="#333" stroke-width="0.8"/>
<rect x="438.40" y="258.70" width="9.00" height="49.00" fill="#565656" stroke="#333333" stroke-width="0.8"/>
<line x1="453.85" y1="284.50" x2="453.85" y2="277.50" stroke="#333" stroke-width="0.8"/>
<line x1="451.45" y1="277.50" x2="456.25" y2="277.50" stroke="#333" stroke-width="0.8"/>
<rect x="449.30" y="284.90" width="9.10" height="22.80" fill="#565656" stroke="#333333" stroke-width="0.8"/>
<line x1="464.85" y1="303.30" x2="464.85" y2="300.60" stroke="#333" stroke-width="0.8"/>
<line x1="462.45" y1="300.60" x2="467.25" y2="300.60" stroke="#333" stroke-width="0.8"/>
<rect x="460.40" y="303.70" width="8.90" height="4.00" fill="#565656" stroke="#333333" stroke-width="0.8"/>
<text transform="translate(420.00 202.60) scale(0.93 1)" font-size="9.95" text-anchor="middle" fill="#231f20" stroke="#231f20" stroke-width="0.22">MIA PaCa-2</text>
<text transform="translate(333.00 259.20) rotate(-90) scale(1.0 1)" font-size="8.00" text-anchor="middle" fill="#231f20" stroke="#231f20" stroke-width="0.22">Cell number</text>
<text transform="translate(369.20 319.80) scale(0.92 1)" font-size="8.70" text-anchor="end" fill="#231f20" stroke="#231f20" stroke-width="0.22">Atorvastatin:</text>
<text transform="translate(369.20 328.10) scale(0.92 1)" font-size="8.70" text-anchor="end" fill="#231f20" stroke="#231f20" stroke-width="0.22">JQ1:</text>
<text transform="translate(390.60 320.10) scale(0.86 1)" font-size="8.14" text-anchor="middle" fill="#333" stroke="#333" stroke-width="0.22">+</text>
<text transform="translate(412.70 320.10) scale(0.86 1)" font-size="8.14" text-anchor="middle" fill="#333" stroke="#333" stroke-width="0.22">+</text>
<text transform="translate(442.90 320.10) scale(0.86 1)" font-size="8.14" text-anchor="middle" fill="#333" stroke="#333" stroke-width="0.22">+</text>
<text transform="translate(464.80 320.10) scale(0.86 1)" font-size="8.14" text-anchor="middle" fill="#333" stroke="#333" stroke-width="0.22">+</text>
<text transform="translate(401.40 329.20) scale(0.86 1)" font-size="8.14" text-anchor="middle" fill="#333" stroke="#333" stroke-width="0.22">+</text>
<text transform="translate(412.70 329.20) scale(0.86 1)" font-size="8.14" text-anchor="middle" fill="#333" stroke="#333" stroke-width="0.22">+</text>
<text transform="translate(453.80 329.20) scale(0.86 1)" font-size="8.14" text-anchor="middle" fill="#333" stroke="#333" stroke-width="0.22">+</text>
<text transform="translate(464.80 329.20) scale(0.86 1)" font-size="8.14" text-anchor="middle" fill="#333" stroke="#333" stroke-width="0.22">+</text>
<rect x="461.40" y="209.30" width="10.00" height="9.00" fill="#c6c6c6" stroke="#606060" stroke-width="0.7"/>
<text transform="translate(474.20 217.40) scale(0.86 1)" font-size="9.53" text-anchor="start" fill="#231f20" stroke="#231f20" stroke-width="0.22">DMEM</text>
<rect x="461.40" y="222.20" width="10.00" height="9.00" fill="#565656" stroke="#333333" stroke-width="0.7"/>
<text transform="translate(474.20 230.30) scale(0.86 1)" font-size="9.53" text-anchor="start" fill="#231f20" stroke="#231f20" stroke-width="0.22">DMEM + ITS</text>
<text transform="translate(-0.60 352.80) scale(0.86 1)" font-size="14.30" text-anchor="start" fill="#231f20" stroke="#231f20" stroke-width="0.22" font-weight="bold">D</text>
<line x1="53.50" y1="369.20" x2="53.50" y2="465.90" stroke="#4e4e4e" stroke-width="1.15"/>
<line x1="50.50" y1="465.90" x2="53.50" y2="465.90" stroke="#4e4e4e" stroke-width="1.15"/>
<text transform="translate(47.10 469.90) scale(0.86 1)" font-size="9.77" text-anchor="end" fill="#231f20" stroke="#231f20" stroke-width="0.22">0</text>
<line x1="50.50" y1="441.72" x2="53.50" y2="441.72" stroke="#4e4e4e" stroke-width="1.15"/>
<text transform="translate(47.10 445.72) scale(0.86 1)" font-size="9.77" text-anchor="end" fill="#231f20" stroke="#231f20" stroke-width="0.22">0.5 <tspan font-size="96%">×</tspan> 10<tspan font-size="62%" dy="-0.46em">5</tspan></text>
<line x1="50.50" y1="417.55" x2="53.50" y2="417.55" stroke="#4e4e4e" stroke-width="1.15"/>
<text transform="translate(47.10 421.55) scale(0.86 1)" font-size="9.77" text-anchor="end" fill="#231f20" stroke="#231f20" stroke-width="0.22">1.0 <tspan font-size="96%">×</tspan> 10<tspan font-size="62%" dy="-0.46em">5</tspan></text>
<line x1="50.50" y1="393.38" x2="53.50" y2="393.38" stroke="#4e4e4e" stroke-width="1.15"/>
<text transform="translate(47.10 397.38) scale(0.86 1)" font-size="9.77" text-anchor="end" fill="#231f20" stroke="#231f20" stroke-width="0.22">1.5 <tspan font-size="96%">×</tspan> 10<tspan font-size="62%" dy="-0.46em">5</tspan></text>
<line x1="50.50" y1="369.20" x2="53.50" y2="369.20" stroke="#4e4e4e" stroke-width="1.15"/>
<text transform="translate(47.10 373.20) scale(0.86 1)" font-size="9.77" text-anchor="end" fill="#231f20" stroke="#231f20" stroke-width="0.22">2.0 <tspan font-size="96%">×</tspan> 10<tspan font-size="62%" dy="-0.46em">5</tspan></text>
<line x1="53.50" y1="465.90" x2="123.60" y2="465.90" stroke="#4e4e4e" stroke-width="1.15"/>
<line x1="62.95" y1="377.90" x2="62.95" y2="376.20" stroke="#333" stroke-width="0.8"/>
<line x1="60.55" y1="376.20" x2="65.35" y2="376.20" stroke="#333" stroke-width="0.8"/>
<rect x="58.30" y="378.30" width="9.30" height="87.60" fill="#979797" stroke="#3a3a3a" stroke-width="0.8"/>
<line x1="76.10" y1="441.90" x2="76.10" y2="440.20" stroke="#333" stroke-width="0.8"/>
<line x1="73.70" y1="440.20" x2="78.50" y2="440.20" stroke="#333" stroke-width="0.8"/>
<rect x="71.60" y="442.30" width="9.00" height="23.60" fill="#6a2f9c" stroke="#3d1a5a" stroke-width="0.8"/>
<line x1="89.20" y1="402.70" x2="89.20" y2="394.50" stroke="#333" stroke-width="0.8"/>
<line x1="86.80" y1="394.50" x2="91.60" y2="394.50" stroke="#333" stroke-width="0.8"/>
<rect x="84.70" y="403.10" width="9.00" height="62.80" fill="#6a2f9c" stroke="#3d1a5a" stroke-width="0.8"/>
<line x1="102.25" y1="414.00" x2="102.25" y2="406.30" stroke="#333" stroke-width="0.8"/>
<line x1="99.85" y1="406.30" x2="104.65" y2="406.30" stroke="#333" stroke-width="0.8"/>
<rect x="97.70" y="414.40" width="9.10" height="51.50" fill="#6a2f9c" stroke="#3d1a5a" stroke-width="0.8"/>
<line x1="115.55" y1="464.20" x2="115.55" y2="463.80" stroke="#333" stroke-width="0.8"/>
<line x1="113.15" y1="463.80" x2="117.95" y2="463.80" stroke="#333" stroke-width="0.8"/>
<rect x="110.90" y="464.60" width="9.30" height="1.30" fill="#6a2f9c" stroke="#3d1a5a" stroke-width="0.8"/>
<text transform="translate(89.60 353.30) scale(0.85 1)" font-size="10.24" text-anchor="middle" fill="#231f20" stroke="#231f20" stroke-width="0.22">AsPC-1</text>
<line x1="62.90" y1="363.30" x2="75.90" y2="363.30" stroke="#333" stroke-width="0.9"/>
<text transform="translate(69.40 363.30) scale(1.0 1)" font-size="9.50" text-anchor="middle" fill="#231f20" stroke="#231f20" stroke-width="0.22">***</text>
<line x1="76.30" y1="371.70" x2="114.90" y2="371.70" stroke="#333" stroke-width="0.9"/>
<text transform="translate(95.80 371.50) scale(1.0 1)" font-size="9.50" text-anchor="middle" fill="#231f20" stroke="#231f20" stroke-width="0.22">**</text>
<line x1="76.30" y1="380.30" x2="102.60" y2="380.30" stroke="#333" stroke-width="0.9"/>
<text transform="translate(90.00 380.20) scale(1.0 1)" font-size="9.50" text-anchor="middle" fill="#231f20" stroke="#231f20" stroke-width="0.22">*</text>
<line x1="76.30" y1="389.30" x2="88.90" y2="389.30" stroke="#333" stroke-width="0.9"/>
<text transform="translate(82.40 389.30) scale(1.0 1)" font-size="9.50" text-anchor="middle" fill="#231f20" stroke="#231f20" stroke-width="0.22">**</text>
<text transform="translate(9.80 418.00) rotate(-90) scale(1.0 1)" font-size="8.40" text-anchor="middle" fill="#231f20" stroke="#231f20" stroke-width="0.22">Cell number</text>
<text transform="translate(52.40 476.70) scale(0.86 1)" font-size="9.30" text-anchor="end" fill="#231f20" stroke="#231f20" stroke-width="0.22">Atorvastatin:</text>
<text transform="translate(52.40 485.20) scale(0.86 1)" font-size="9.30" text-anchor="end" fill="#231f20" stroke="#231f20" stroke-width="0.22">Mevalonate:</text>
<text transform="translate(52.40 494.20) scale(0.86 1)" font-size="9.30" text-anchor="end" fill="#231f20" stroke="#231f20" stroke-width="0.22">GGPP:</text>
<text transform="translate(52.40 503.00) scale(0.86 1)" font-size="9.30" text-anchor="end" fill="#231f20" stroke="#231f20" stroke-width="0.22">Cholesterol:</text>
<text transform="translate(76.20 478.00) scale(0.86 1)" font-size="8.14" text-anchor="middle" fill="#333" stroke="#333" stroke-width="0.22">+</text>
<text transform="translate(88.90 478.00) scale(0.86 1)" font-size="8.14" text-anchor="middle" fill="#333" stroke="#333" stroke-width="0.22">+</text>
<text transform="translate(102.30 478.00) scale(0.86 1)" font-size="8.14" text-anchor="middle" fill="#333" stroke="#333" stroke-width="0.22">+</text>
<text transform="translate(115.60 478.00) scale(0.86 1)" font-size="8.14" text-anchor="middle" fill="#333" stroke="#333" stroke-width="0.22">+</text>
<text transform="translate(88.90 486.20) scale(0.86 1)" font-size="8.14" text-anchor="middle" fill="#333" stroke="#333" stroke-width="0.22">+</text>
<text transform="translate(102.30 495.80) scale(0.86 1)" font-size="8.14" text-anchor="middle" fill="#333" stroke="#333" stroke-width="0.22">+</text>
<text transform="translate(115.60 503.70) scale(0.86 1)" font-size="8.14" text-anchor="middle" fill="#333" stroke="#333" stroke-width="0.22">+</text>
<text transform="translate(129.80 363.20) scale(0.86 1)" font-size="14.30" text-anchor="start" fill="#231f20" stroke="#231f20" stroke-width="0.22" font-weight="bold">E</text>
<line x1="181.40" y1="369.90" x2="181.40" y2="466.00" stroke="#4e4e4e" stroke-width="1.15"/>
<line x1="178.40" y1="466.00" x2="181.40" y2="466.00" stroke="#4e4e4e" stroke-width="1.15"/>
<text transform="translate(175.80 470.00) scale(0.97 1)" font-size="8.87" text-anchor="end" fill="#231f20" stroke="#231f20" stroke-width="0.22">0</text>
<line x1="178.40" y1="441.98" x2="181.40" y2="441.98" stroke="#4e4e4e" stroke-width="1.15"/>
<text transform="translate(176.80 445.98) scale(0.97 1)" font-size="8.87" text-anchor="end" fill="#231f20" stroke="#231f20" stroke-width="0.22">0.5 <tspan font-size="112%">×</tspan> 10<tspan font-size="62%" dy="-0.46em">5</tspan></text>
<line x1="178.40" y1="417.95" x2="181.40" y2="417.95" stroke="#4e4e4e" stroke-width="1.15"/>
<text transform="translate(176.80 421.95) scale(0.97 1)" font-size="8.87" text-anchor="end" fill="#231f20" stroke="#231f20" stroke-width="0.22">1.0 <tspan font-size="112%">×</tspan> 10<tspan font-size="62%" dy="-0.46em">5</tspan></text>
<line x1="178.40" y1="393.92" x2="181.40" y2="393.92" stroke="#4e4e4e" stroke-width="1.15"/>
<text transform="translate(176.80 397.92) scale(0.97 1)" font-size="8.87" text-anchor="end" fill="#231f20" stroke="#231f20" stroke-width="0.22">1.5 <tspan font-size="112%">×</tspan> 10<tspan font-size="62%" dy="-0.46em">5</tspan></text>
<line x1="178.40" y1="369.90" x2="181.40" y2="369.90" stroke="#4e4e4e" stroke-width="1.15"/>
<text transform="translate(176.80 373.90) scale(0.97 1)" font-size="8.87" text-anchor="end" fill="#231f20" stroke="#231f20" stroke-width="0.22">2.0 <tspan font-size="112%">×</tspan> 10<tspan font-size="62%" dy="-0.46em">6</tspan></text>
<line x1="181.60" y1="453.60" x2="287.70" y2="453.60" stroke="#555" stroke-width="0.8" stroke-dasharray="2.4,3.0"/>
<line x1="181.40" y1="466.00" x2="287.00" y2="466.00" stroke="#4e4e4e" stroke-width="1.15"/>
<line x1="191.10" y1="414.00" x2="191.10" y2="406.30" stroke="#333" stroke-width="0.8"/>
<line x1="188.70" y1="406.30" x2="193.50" y2="406.30" stroke="#333" stroke-width="0.8"/>
<rect x="186.60" y="414.40" width="9.00" height="51.60" fill="#c6c6c6" stroke="#606060" stroke-width="0.8"/>
<line x1="201.90" y1="456.90" x2="201.90" y2="456.30" stroke="#333" stroke-width="0.8"/>
<line x1="199.50" y1="456.30" x2="204.30" y2="456.30" stroke="#333" stroke-width="0.8"/>
<rect x="197.70" y="457.30" width="8.40" height="8.70" fill="#c6c6c6" stroke="#606060" stroke-width="0.8"/>
<line x1="213.50" y1="451.30" x2="213.50" y2="449.60" stroke="#333" stroke-width="0.8"/>
<line x1="211.10" y1="449.60" x2="215.90" y2="449.60" stroke="#333" stroke-width="0.8"/>
<rect x="208.90" y="451.70" width="9.20" height="14.30" fill="#c6c6c6" stroke="#606060" stroke-width="0.8"/>
<line x1="224.40" y1="465.20" x2="224.40" y2="464.80" stroke="#333" stroke-width="0.8"/>
<line x1="222.00" y1="464.80" x2="226.80" y2="464.80" stroke="#333" stroke-width="0.8"/>
<rect x="220.00" y="465.60" width="8.80" height="0.40" fill="#c6c6c6" stroke="#606060" stroke-width="0.8"/>
<line x1="244.30" y1="401.50" x2="244.30" y2="391.20" stroke="#333" stroke-width="0.8"/>
<line x1="241.90" y1="391.20" x2="246.70" y2="391.20" stroke="#333" stroke-width="0.8"/>
<rect x="240.00" y="401.90" width="8.60" height="64.10" fill="#565656" stroke="#333333" stroke-width="0.8"/>
<line x1="254.75" y1="453.80" x2="254.75" y2="453.40" stroke="#333" stroke-width="0.8"/>
<line x1="252.35" y1="453.40" x2="257.15" y2="453.40" stroke="#333" stroke-width="0.8"/>
<rect x="250.40" y="454.20" width="8.70" height="11.80" fill="#565656" stroke="#333333" stroke-width="0.8"/>
<line x1="265.65" y1="438.00" x2="265.65" y2="433.50" stroke="#333" stroke-width="0.8"/>
<line x1="263.25" y1="433.50" x2="268.05" y2="433.50" stroke="#333" stroke-width="0.8"/>
<rect x="261.20" y="438.40" width="8.90" height="27.60" fill="#565656" stroke="#333333" stroke-width="0.8"/>
<line x1="276.80" y1="465.20" x2="276.80" y2="464.80" stroke="#333" stroke-width="0.8"/>
<line x1="274.40" y1="464.80" x2="279.20" y2="464.80" stroke="#333" stroke-width="0.8"/>
<rect x="272.40" y="465.60" width="8.80" height="0.40" fill="#565656" stroke="#333333" stroke-width="0.8"/>
<text transform="translate(231.80 360.70) scale(0.88 1)" font-size="10.45" text-anchor="middle" fill="#4581b2" stroke="#4581b2" stroke-width="0.22">6419c5</text>
<text transform="translate(141.30 418.10) rotate(-90) scale(1.0 1)" font-size="8.20" text-anchor="middle" fill="#231f20" stroke="#231f20" stroke-width="0.22">Cell number</text>
<line x1="346.20" y1="370.10" x2="346.20" y2="466.00" stroke="#4e4e4e" stroke-width="1.15"/>
<line x1="343.20" y1="466.00" x2="346.20" y2="466.00" stroke="#4e4e4e" stroke-width="1.15"/>
<text transform="translate(340.20 470.00) scale(0.97 1)" font-size="8.87" text-anchor="end" fill="#231f20" stroke="#231f20" stroke-width="0.22">0</text>
<line x1="343.20" y1="446.82" x2="346.20" y2="446.82" stroke="#4e4e4e" stroke-width="1.15"/>
<text transform="translate(341.60 450.82) scale(0.97 1)" font-size="8.87" text-anchor="end" fill="#231f20" stroke="#231f20" stroke-width="0.22">0.5 <tspan font-size="112%">×</tspan> 10<tspan font-size="62%" dy="-0.46em">5</tspan></text>
<line x1="343.20" y1="427.64" x2="346.20" y2="427.64" stroke="#4e4e4e" stroke-width="1.15"/>
<text transform="translate(341.60 431.64) scale(0.97 1)" font-size="8.87" text-anchor="end" fill="#231f20" stroke="#231f20" stroke-width="0.22">1.0 <tspan font-size="112%">×</tspan> 10<tspan font-size="62%" dy="-0.46em">5</tspan></text>
<line x1="343.20" y1="408.46" x2="346.20" y2="408.46" stroke="#4e4e4e" stroke-width="1.15"/>
<text transform="translate(341.60 412.46) scale(0.97 1)" font-size="8.87" text-anchor="end" fill="#231f20" stroke="#231f20" stroke-width="0.22">1.5 <tspan font-size="112%">×</tspan> 10<tspan font-size="62%" dy="-0.46em">6</tspan></text>
<line x1="343.20" y1="389.28" x2="346.20" y2="389.28" stroke="#4e4e4e" stroke-width="1.15"/>
<text transform="translate(341.60 393.28) scale(0.97 1)" font-size="8.87" text-anchor="end" fill="#231f20" stroke="#231f20" stroke-width="0.22">2.0 <tspan font-size="112%">×</tspan> 10<tspan font-size="62%" dy="-0.46em">6</tspan></text>
<line x1="343.20" y1="370.10" x2="346.20" y2="370.10" stroke="#4e4e4e" stroke-width="1.15"/>
<text transform="translate(341.60 374.10) scale(0.97 1)" font-size="8.87" text-anchor="end" fill="#231f20" stroke="#231f20" stroke-width="0.22">2.5 <tspan font-size="112%">×</tspan> 10<tspan font-size="62%" dy="-0.46em">6</tspan></text>
<line x1="347.00" y1="456.00" x2="451.60" y2="456.00" stroke="#555" stroke-width="0.8" stroke-dasharray="2.4,3.0"/>
<line x1="346.20" y1="466.00" x2="450.80" y2="466.00" stroke="#4e4e4e" stroke-width="1.15"/>
<line x1="355.70" y1="399.20" x2="355.70" y2="395.20" stroke="#333" stroke-width="0.8"/>
<line x1="353.30" y1="395.20" x2="358.10" y2="395.20" stroke="#333" stroke-width="0.8"/>
<rect x="351.00" y="399.60" width="9.40" height="66.40" fill="#c6c6c6" stroke="#606060" stroke-width="0.8"/>
<line x1="366.55" y1="449.90" x2="366.55" y2="447.40" stroke="#333" stroke-width="0.8"/>
<line x1="364.15" y1="447.40" x2="368.95" y2="447.40" stroke="#333" stroke-width="0.8"/>
<rect x="361.90" y="450.30" width="9.30" height="15.70" fill="#c6c6c6" stroke="#606060" stroke-width="0.8"/>
<line x1="377.75" y1="454.30" x2="377.75" y2="453.40" stroke="#333" stroke-width="0.8"/>
<line x1="375.35" y1="453.40" x2="380.15" y2="453.40" stroke="#333" stroke-width="0.8"/>
<rect x="373.20" y="454.70" width="9.10" height="11.30" fill="#c6c6c6" stroke="#606060" stroke-width="0.8"/>
<line x1="388.65" y1="463.50" x2="388.65" y2="463.00" stroke="#333" stroke-width="0.8"/>
<line x1="386.25" y1="463.00" x2="391.05" y2="463.00" stroke="#333" stroke-width="0.8"/>
<rect x="384.20" y="463.90" width="8.90" height="2.10" fill="#c6c6c6" stroke="#606060" stroke-width="0.8"/>
<line x1="408.35" y1="394.50" x2="408.35" y2="385.10" stroke="#333" stroke-width="0.8"/>
<line x1="405.95" y1="385.10" x2="410.75" y2="385.10" stroke="#333" stroke-width="0.8"/>
<rect x="403.90" y="394.90" width="8.90" height="71.10" fill="#565656" stroke="#333333" stroke-width="0.8"/>
<line x1="418.65" y1="439.30" x2="418.65" y2="435.80" stroke="#333" stroke-width="0.8"/>
<line x1="416.25" y1="435.80" x2="421.05" y2="435.80" stroke="#333" stroke-width="0.8"/>
<rect x="414.20" y="439.70" width="8.90" height="26.30" fill="#565656" stroke="#333333" stroke-width="0.8"/>
<line x1="429.80" y1="430.80" x2="429.80" y2="428.50" stroke="#333" stroke-width="0.8"/>
<line x1="427.40" y1="428.50" x2="432.20" y2="428.50" stroke="#333" stroke-width="0.8"/>
<rect x="425.40" y="431.20" width="8.80" height="34.80" fill="#565656" stroke="#333333" stroke-width="0.8"/>
<line x1="440.95" y1="460.30" x2="440.95" y2="458.00" stroke="#333" stroke-width="0.8"/>
<line x1="438.55" y1="458.00" x2="443.35" y2="458.00" stroke="#333" stroke-width="0.8"/>
<rect x="436.60" y="460.70" width="8.70" height="5.30" fill="#565656" stroke="#333333" stroke-width="0.8"/>
<text transform="translate(396.20 360.50) scale(0.88 1)" font-size="10.45" text-anchor="middle" fill="#5f4a88" stroke="#5f4a88" stroke-width="0.22">2838c3</text>
<text transform="translate(300.00 418.00) rotate(-90) scale(1.0 1)" font-size="8.40" text-anchor="middle" fill="#231f20" stroke="#231f20" stroke-width="0.22">Cell number</text>
<text transform="translate(182.20 476.50) scale(0.86 1)" font-size="9.30" text-anchor="end" fill="#231f20" stroke="#231f20" stroke-width="0.22">Atorvastatin:</text>
<text transform="translate(182.20 485.40) scale(0.86 1)" font-size="9.30" text-anchor="end" fill="#231f20" stroke="#231f20" stroke-width="0.22">JQ1:</text>
<text transform="translate(202.10 478.00) scale(0.86 1)" font-size="8.14" text-anchor="middle" fill="#333" stroke="#333" stroke-width="0.22">+</text>
<text transform="translate(223.80 478.00) scale(0.86 1)" font-size="8.14" text-anchor="middle" fill="#333" stroke="#333" stroke-width="0.22">+</text>
<text transform="translate(254.60 478.00) scale(0.86 1)" font-size="8.14" text-anchor="middle" fill="#333" stroke="#333" stroke-width="0.22">+</text>
<text transform="translate(276.50 478.00) scale(0.86 1)" font-size="8.14" text-anchor="middle" fill="#333" stroke="#333" stroke-width="0.22">+</text>
<text transform="translate(213.30 487.00) scale(0.86 1)" font-size="8.14" text-anchor="middle" fill="#333" stroke="#333" stroke-width="0.22">+</text>
<text transform="translate(223.80 487.00) scale(0.86 1)" font-size="8.14" text-anchor="middle" fill="#333" stroke="#333" stroke-width="0.22">+</text>
<text transform="translate(265.60 487.00) scale(0.86 1)" font-size="8.14" text-anchor="middle" fill="#333" stroke="#333" stroke-width="0.22">+</text>
<text transform="translate(276.50 487.00) scale(0.86 1)" font-size="8.14" text-anchor="middle" fill="#333" stroke="#333" stroke-width="0.22">+</text>
<text transform="translate(345.80 476.50) scale(0.86 1)" font-size="9.30" text-anchor="end" fill="#231f20" stroke="#231f20" stroke-width="0.22">Atorvastatin:</text>
<text transform="translate(345.80 485.40) scale(0.86 1)" font-size="9.30" text-anchor="end" fill="#231f20" stroke="#231f20" stroke-width="0.22">JQ1:</text>
<text transform="translate(366.50 478.00) scale(0.86 1)" font-size="8.14" text-anchor="middle" fill="#333" stroke="#333" stroke-width="0.22">+</text>
<text transform="translate(388.50 478.00) scale(0.86 1)" font-size="8.14" text-anchor="middle" fill="#333" stroke="#333" stroke-width="0.22">+</text>
<text transform="translate(418.90 478.00) scale(0.86 1)" font-size="8.14" text-anchor="middle" fill="#333" stroke="#333" stroke-width="0.22">+</text>
<text transform="translate(440.90 478.00) scale(0.86 1)" font-size="8.14" text-anchor="middle" fill="#333" stroke="#333" stroke-width="0.22">+</text>
<text transform="translate(377.40 487.00) scale(0.86 1)" font-size="8.14" text-anchor="middle" fill="#333" stroke="#333" stroke-width="0.22">+</text>
<text transform="translate(388.50 487.00) scale(0.86 1)" font-size="8.14" text-anchor="middle" fill="#333" stroke="#333" stroke-width="0.22">+</text>
<text transform="translate(430.00 487.00) scale(0.86 1)" font-size="8.14" text-anchor="middle" fill="#333" stroke="#333" stroke-width="0.22">+</text>
<text transform="translate(440.90 487.00) scale(0.86 1)" font-size="8.14" text-anchor="middle" fill="#333" stroke="#333" stroke-width="0.22">+</text>
<rect x="440.20" y="367.00" width="9.40" height="9.20" fill="#c6c6c6" stroke="#606060" stroke-width="0.7"/>
<text transform="translate(453.00 375.40) scale(0.86 1)" font-size="9.42" text-anchor="start" fill="#231f20" stroke="#231f20" stroke-width="0.22">DMEM</text>
<rect x="440.20" y="379.30" width="9.40" height="9.20" fill="#565656" stroke="#333333" stroke-width="0.7"/>
<text transform="translate(453.00 387.50) scale(0.86 1)" font-size="9.42" text-anchor="start" fill="#231f20" stroke="#231f20" stroke-width="0.22">DMEM + ITS</text>
<text transform="translate(2.60 530.80) scale(0.86 1)" font-size="14.30" text-anchor="start" fill="#231f20" stroke="#231f20" stroke-width="0.22" font-weight="bold">F</text>
<line x1="45.20" y1="543.20" x2="45.20" y2="639.00" stroke="#4e4e4e" stroke-width="1.15"/>
<line x1="42.20" y1="639.00" x2="45.20" y2="639.00" stroke="#4e4e4e" stroke-width="1.15"/>
<text transform="translate(40.60 643.00) scale(0.86 1)" font-size="10.00" text-anchor="end" fill="#231f20" stroke="#231f20" stroke-width="0.22">0</text>
<line x1="42.20" y1="615.05" x2="45.20" y2="615.05" stroke="#4e4e4e" stroke-width="1.15"/>
<text transform="translate(40.60 619.05) scale(0.86 1)" font-size="10.00" text-anchor="end" fill="#231f20" stroke="#231f20" stroke-width="0.22">200</text>
<line x1="42.20" y1="591.10" x2="45.20" y2="591.10" stroke="#4e4e4e" stroke-width="1.15"/>
<text transform="translate(40.60 595.10) scale(0.86 1)" font-size="10.00" text-anchor="end" fill="#231f20" stroke="#231f20" stroke-width="0.22">400</text>
<line x1="42.20" y1="567.15" x2="45.20" y2="567.15" stroke="#4e4e4e" stroke-width="1.15"/>
<text transform="translate(40.60 571.15) scale(0.86 1)" font-size="10.00" text-anchor="end" fill="#231f20" stroke="#231f20" stroke-width="0.22">600</text>
<line x1="42.20" y1="543.20" x2="45.20" y2="543.20" stroke="#4e4e4e" stroke-width="1.15"/>
<text transform="translate(40.60 547.20) scale(0.86 1)" font-size="10.00" text-anchor="end" fill="#231f20" stroke="#231f20" stroke-width="0.22">800</text>
<line x1="45.20" y1="639.00" x2="142.80" y2="639.00" stroke="#4e4e4e" stroke-width="1.15"/>
<line x1="53.00" y1="639.00" x2="53.00" y2="641.50" stroke="#4e4e4e" stroke-width="1.15"/>
<text transform="translate(53.00 651.20) scale(0.92 1)" font-size="9.35" text-anchor="middle" fill="#231f20" stroke="#231f20" stroke-width="0.22">9</text>
<line x1="67.60" y1="639.00" x2="67.60" y2="641.50" stroke="#4e4e4e" stroke-width="1.15"/>
<text transform="translate(67.60 651.20) scale(0.92 1)" font-size="9.35" text-anchor="middle" fill="#231f20" stroke="#231f20" stroke-width="0.22">11</text>
<line x1="82.50" y1="639.00" x2="82.50" y2="641.50" stroke="#4e4e4e" stroke-width="1.15"/>
<text transform="translate(82.50 651.20) scale(0.92 1)" font-size="9.35" text-anchor="middle" fill="#231f20" stroke="#231f20" stroke-width="0.22">13</text>
<line x1="97.50" y1="639.00" x2="97.50" y2="641.50" stroke="#4e4e4e" stroke-width="1.15"/>
<text transform="translate(97.50 651.20) scale(0.92 1)" font-size="9.35" text-anchor="middle" fill="#231f20" stroke="#231f20" stroke-width="0.22">15</text>
<line x1="112.50" y1="639.00" x2="112.50" y2="641.50" stroke="#4e4e4e" stroke-width="1.15"/>
<text transform="translate(112.50 651.20) scale(0.92 1)" font-size="9.35" text-anchor="middle" fill="#231f20" stroke="#231f20" stroke-width="0.22">17</text>
<line x1="127.00" y1="639.00" x2="127.00" y2="641.50" stroke="#4e4e4e" stroke-width="1.15"/>
<text transform="translate(127.00 651.20) scale(0.92 1)" font-size="9.35" text-anchor="middle" fill="#231f20" stroke="#231f20" stroke-width="0.22">19</text>
<line x1="141.80" y1="639.00" x2="141.80" y2="641.50" stroke="#4e4e4e" stroke-width="1.15"/>
<text transform="translate(141.80 651.20) scale(0.92 1)" font-size="9.35" text-anchor="middle" fill="#231f20" stroke="#231f20" stroke-width="0.22">21</text>
<text transform="translate(97.40 661.00) scale(0.88 1)" font-size="9.20" text-anchor="middle" fill="#231f20" stroke="#231f20" stroke-width="0.22">Days after inoculation</text>
<text transform="translate(93.80 529.30) scale(0.86 1)" font-size="10.81" text-anchor="middle" fill="#4581b2" stroke="#4581b2" stroke-width="0.22">6418c5</text>
<text transform="translate(22.60 591.10) rotate(-90) scale(1.0 1)" font-size="8.40" text-anchor="middle" fill="#231f20" stroke="#231f20" stroke-width="0.22">Tumor volume (mm<tspan font-size="65%" dy="-0.42em">3</tspan><tspan dy="0.273em">)</tspan></text>
<line x1="67.60" y1="632.41" x2="67.60" y2="634.81" stroke="#1f4d70" stroke-width="0.85"/>
<line x1="65.00" y1="632.41" x2="70.20" y2="632.41" stroke="#1f4d70" stroke-width="0.85"/>
<line x1="65.00" y1="634.81" x2="70.20" y2="634.81" stroke="#1f4d70" stroke-width="0.85"/>
<line x1="82.50" y1="629.18" x2="82.50" y2="631.58" stroke="#1f4d70" stroke-width="0.85"/>
<line x1="79.90" y1="629.18" x2="85.10" y2="629.18" stroke="#1f4d70" stroke-width="0.85"/>
<line x1="79.90" y1="631.58" x2="85.10" y2="631.58" stroke="#1f4d70" stroke-width="0.85"/>
<line x1="97.50" y1="627.98" x2="97.50" y2="630.38" stroke="#1f4d70" stroke-width="0.85"/>
<line x1="94.90" y1="627.98" x2="100.10" y2="627.98" stroke="#1f4d70" stroke-width="0.85"/>
<line x1="94.90" y1="630.38" x2="100.10" y2="630.38" stroke="#1f4d70" stroke-width="0.85"/>
<line x1="112.50" y1="625.71" x2="112.50" y2="629.30" stroke="#1f4d70" stroke-width="0.85"/>
<line x1="109.90" y1="625.71" x2="115.10" y2="625.71" stroke="#1f4d70" stroke-width="0.85"/>
<line x1="109.90" y1="629.30" x2="115.10" y2="629.30" stroke="#1f4d70" stroke-width="0.85"/>
<line x1="127.00" y1="613.85" x2="127.00" y2="618.64" stroke="#1f4d70" stroke-width="0.85"/>
<line x1="124.40" y1="613.85" x2="129.60" y2="613.85" stroke="#1f4d70" stroke-width="0.85"/>
<line x1="124.40" y1="618.64" x2="129.60" y2="618.64" stroke="#1f4d70" stroke-width="0.85"/>
<line x1="141.80" y1="611.46" x2="141.80" y2="617.45" stroke="#1f4d70" stroke-width="0.85"/>
<line x1="139.20" y1="611.46" x2="144.40" y2="611.46" stroke="#1f4d70" stroke-width="0.85"/>
<line x1="139.20" y1="617.45" x2="144.40" y2="617.45" stroke="#1f4d70" stroke-width="0.85"/>
<line x1="67.60" y1="631.58" x2="67.60" y2="634.45" stroke="#333333" stroke-width="0.85"/>
<line x1="65.00" y1="631.58" x2="70.20" y2="631.58" stroke="#333333" stroke-width="0.85"/>
<line x1="65.00" y1="634.45" x2="70.20" y2="634.45" stroke="#333333" stroke-width="0.85"/>
<line x1="82.50" y1="629.66" x2="82.50" y2="632.53" stroke="#333333" stroke-width="0.85"/>
<line x1="79.90" y1="629.66" x2="85.10" y2="629.66" stroke="#333333" stroke-width="0.85"/>
<line x1="79.90" y1="632.53" x2="85.10" y2="632.53" stroke="#333333" stroke-width="0.85"/>
<line x1="97.50" y1="627.98" x2="97.50" y2="630.86" stroke="#333333" stroke-width="0.85"/>
<line x1="94.90" y1="627.98" x2="100.10" y2="627.98" stroke="#333333" stroke-width="0.85"/>
<line x1="94.90" y1="630.86" x2="100.10" y2="630.86" stroke="#333333" stroke-width="0.85"/>
<line x1="112.50" y1="619.60" x2="112.50" y2="626.79" stroke="#333333" stroke-width="0.85"/>
<line x1="109.90" y1="619.60" x2="115.10" y2="619.60" stroke="#333333" stroke-width="0.85"/>
<line x1="109.90" y1="626.79" x2="115.10" y2="626.79" stroke="#333333" stroke-width="0.85"/>
<line x1="127.00" y1="612.65" x2="127.00" y2="618.64" stroke="#333333" stroke-width="0.85"/>
<line x1="124.40" y1="612.65" x2="129.60" y2="612.65" stroke="#333333" stroke-width="0.85"/>
<line x1="124.40" y1="618.64" x2="129.60" y2="618.64" stroke="#333333" stroke-width="0.85"/>
<line x1="141.80" y1="606.31" x2="141.80" y2="617.09" stroke="#333333" stroke-width="0.85"/>
<line x1="139.20" y1="606.31" x2="144.40" y2="606.31" stroke="#333333" stroke-width="0.85"/>
<line x1="139.20" y1="617.09" x2="144.40" y2="617.09" stroke="#333333" stroke-width="0.85"/>
<line x1="67.60" y1="634.33" x2="67.60" y2="637.20" stroke="#8a8a8a" stroke-width="0.85"/>
<line x1="65.00" y1="634.33" x2="70.20" y2="634.33" stroke="#8a8a8a" stroke-width="0.85"/>
<line x1="65.00" y1="637.20" x2="70.20" y2="637.20" stroke="#8a8a8a" stroke-width="0.85"/>
<line x1="82.50" y1="629.18" x2="82.50" y2="632.05" stroke="#8a8a8a" stroke-width="0.85"/>
<line x1="79.90" y1="629.18" x2="85.10" y2="629.18" stroke="#8a8a8a" stroke-width="0.85"/>
<line x1="79.90" y1="632.05" x2="85.10" y2="632.05" stroke="#8a8a8a" stroke-width="0.85"/>
<line x1="97.50" y1="627.74" x2="97.50" y2="630.62" stroke="#8a8a8a" stroke-width="0.85"/>
<line x1="94.90" y1="627.74" x2="100.10" y2="627.74" stroke="#8a8a8a" stroke-width="0.85"/>
<line x1="94.90" y1="630.62" x2="100.10" y2="630.62" stroke="#8a8a8a" stroke-width="0.85"/>
<line x1="112.50" y1="619.84" x2="112.50" y2="628.22" stroke="#8a8a8a" stroke-width="0.85"/>
<line x1="109.90" y1="619.84" x2="115.10" y2="619.84" stroke="#8a8a8a" stroke-width="0.85"/>
<line x1="109.90" y1="628.22" x2="115.10" y2="628.22" stroke="#8a8a8a" stroke-width="0.85"/>
<line x1="127.00" y1="610.86" x2="127.00" y2="618.04" stroke="#8a8a8a" stroke-width="0.85"/>
<line x1="124.40" y1="610.86" x2="129.60" y2="610.86" stroke="#8a8a8a" stroke-width="0.85"/>
<line x1="124.40" y1="618.04" x2="129.60" y2="618.04" stroke="#8a8a8a" stroke-width="0.85"/>
<line x1="141.80" y1="602.36" x2="141.80" y2="616.73" stroke="#8a8a8a" stroke-width="0.85"/>
<line x1="139.20" y1="602.36" x2="144.40" y2="602.36" stroke="#8a8a8a" stroke-width="0.85"/>
<line x1="139.20" y1="616.73" x2="144.40" y2="616.73" stroke="#8a8a8a" stroke-width="0.85"/>
<line x1="67.60" y1="629.42" x2="67.60" y2="632.29" stroke="#555" stroke-width="0.85"/>
<line x1="65.00" y1="629.42" x2="70.20" y2="629.42" stroke="#555" stroke-width="0.85"/>
<line x1="65.00" y1="632.29" x2="70.20" y2="632.29" stroke="#555" stroke-width="0.85"/>
<line x1="82.50" y1="627.50" x2="82.50" y2="630.38" stroke="#555" stroke-width="0.85"/>
<line x1="79.90" y1="627.50" x2="85.10" y2="627.50" stroke="#555" stroke-width="0.85"/>
<line x1="79.90" y1="630.38" x2="85.10" y2="630.38" stroke="#555" stroke-width="0.85"/>
<line x1="97.50" y1="627.02" x2="97.50" y2="631.82" stroke="#555" stroke-width="0.85"/>
<line x1="94.90" y1="627.02" x2="100.10" y2="627.02" stroke="#555" stroke-width="0.85"/>
<line x1="94.90" y1="631.82" x2="100.10" y2="631.82" stroke="#555" stroke-width="0.85"/>
<line x1="112.50" y1="609.90" x2="112.50" y2="617.09" stroke="#555" stroke-width="0.85"/>
<line x1="109.90" y1="609.90" x2="115.10" y2="609.90" stroke="#555" stroke-width="0.85"/>
<line x1="109.90" y1="617.09" x2="115.10" y2="617.09" stroke="#555" stroke-width="0.85"/>
<line x1="127.00" y1="602.36" x2="127.00" y2="611.46" stroke="#555" stroke-width="0.85"/>
<line x1="124.40" y1="602.36" x2="129.60" y2="602.36" stroke="#555" stroke-width="0.85"/>
<line x1="124.40" y1="611.46" x2="129.60" y2="611.46" stroke="#555" stroke-width="0.85"/>
<line x1="141.80" y1="570.02" x2="141.80" y2="597.57" stroke="#555" stroke-width="0.85"/>
<line x1="139.20" y1="570.02" x2="144.40" y2="570.02" stroke="#555" stroke-width="0.85"/>
<line x1="139.20" y1="597.57" x2="144.40" y2="597.57" stroke="#555" stroke-width="0.85"/>
<path d="M53.00 638.04 L67.60 633.61 L82.50 630.38 L97.50 629.18 L112.50 627.50 L127.00 616.25 L141.80 614.45" stroke="#3a739c" stroke-width="1.15" fill="none"/>
<circle cx="53.00" cy="638.04" r="2.7" fill="#336e99" stroke="#1f4d70" stroke-width="0.9"/>
<circle cx="67.60" cy="633.61" r="2.7" fill="#336e99" stroke="#1f4d70" stroke-width="0.9"/>
<circle cx="82.50" cy="630.38" r="2.7" fill="#336e99" stroke="#1f4d70" stroke-width="0.9"/>
<circle cx="97.50" cy="629.18" r="2.7" fill="#336e99" stroke="#1f4d70" stroke-width="0.9"/>
<circle cx="112.50" cy="627.50" r="2.7" fill="#336e99" stroke="#1f4d70" stroke-width="0.9"/>
<circle cx="127.00" cy="616.25" r="2.7" fill="#336e99" stroke="#1f4d70" stroke-width="0.9"/>
<circle cx="141.80" cy="614.45" r="2.7" fill="#336e99" stroke="#1f4d70" stroke-width="0.9"/>
<path d="M53.00 638.04 L67.60 633.01 L82.50 631.10 L97.50 629.42 L112.50 623.19 L127.00 615.65 L141.80 611.70" stroke="#444444" stroke-width="1.15" fill="none"/>
<circle cx="53.00" cy="638.04" r="2.7" fill="#6a6a6a" stroke="#333333" stroke-width="0.9"/>
<circle cx="67.60" cy="633.01" r="2.7" fill="#6a6a6a" stroke="#333333" stroke-width="0.9"/>
<circle cx="82.50" cy="631.10" r="2.7" fill="#6a6a6a" stroke="#333333" stroke-width="0.9"/>
<circle cx="97.50" cy="629.42" r="2.7" fill="#6a6a6a" stroke="#333333" stroke-width="0.9"/>
<circle cx="112.50" cy="623.19" r="2.7" fill="#6a6a6a" stroke="#333333" stroke-width="0.9"/>
<circle cx="127.00" cy="615.65" r="2.7" fill="#6a6a6a" stroke="#333333" stroke-width="0.9"/>
<circle cx="141.80" cy="611.70" r="2.7" fill="#6a6a6a" stroke="#333333" stroke-width="0.9"/>
<path d="M53.00 638.04 L67.60 635.77 L82.50 630.62 L97.50 629.18 L112.50 624.03 L127.00 614.45 L141.80 609.54" stroke="#9a9a9a" stroke-width="1.15" fill="none"/>
<circle cx="53.00" cy="638.04" r="2.7" fill="#e2e2e2" stroke="#8a8a8a" stroke-width="0.9"/>
<circle cx="67.60" cy="635.77" r="2.7" fill="#e2e2e2" stroke="#8a8a8a" stroke-width="0.9"/>
<circle cx="82.50" cy="630.62" r="2.7" fill="#e2e2e2" stroke="#8a8a8a" stroke-width="0.9"/>
<circle cx="97.50" cy="629.18" r="2.7" fill="#e2e2e2" stroke="#8a8a8a" stroke-width="0.9"/>
<circle cx="112.50" cy="624.03" r="2.7" fill="#e2e2e2" stroke="#8a8a8a" stroke-width="0.9"/>
<circle cx="127.00" cy="614.45" r="2.7" fill="#e2e2e2" stroke="#8a8a8a" stroke-width="0.9"/>
<circle cx="141.80" cy="609.54" r="2.7" fill="#e2e2e2" stroke="#8a8a8a" stroke-width="0.9"/>
<path d="M53.00 638.04 L67.60 630.86 L82.50 628.94 L97.50 629.42 L112.50 613.49 L127.00 606.91 L141.80 583.80" stroke="#1a1a1a" stroke-width="1.15" fill="none"/>
<circle cx="53.00" cy="638.04" r="2.7" fill="#1a1a1a" stroke="#1a1a1a" stroke-width="0.9"/>
<circle cx="67.60" cy="630.86" r="2.7" fill="#1a1a1a" stroke="#1a1a1a" stroke-width="0.9"/>
<circle cx="82.50" cy="628.94" r="2.7" fill="#1a1a1a" stroke="#1a1a1a" stroke-width="0.9"/>
<circle cx="97.50" cy="629.42" r="2.7" fill="#1a1a1a" stroke="#1a1a1a" stroke-width="0.9"/>
<circle cx="112.50" cy="613.49" r="2.7" fill="#1a1a1a" stroke="#1a1a1a" stroke-width="0.9"/>
<circle cx="127.00" cy="606.91" r="2.7" fill="#1a1a1a" stroke="#1a1a1a" stroke-width="0.9"/>
<circle cx="141.80" cy="583.80" r="2.7" fill="#1a1a1a" stroke="#1a1a1a" stroke-width="0.9"/>
<line x1="51.60" y1="540.40" x2="65.60" y2="540.40" stroke="#1a1a1a" stroke-width="1.7"/>
<circle cx="58.60" cy="540.40" r="2.6" fill="#1a1a1a" stroke="#1a1a1a" stroke-width="0.9"/>
<text transform="translate(68.60 544.00) scale(0.9 1)" font-size="9.44" text-anchor="start" fill="#231f20" stroke="#231f20" stroke-width="0.22">Vehicle</text>
<line x1="51.60" y1="550.85" x2="65.60" y2="550.85" stroke="#9a9a9a" stroke-width="1.7"/>
<circle cx="58.60" cy="550.85" r="2.6" fill="#e2e2e2" stroke="#8a8a8a" stroke-width="0.9"/>
<text transform="translate(68.60 554.45) scale(0.9 1)" font-size="9.44" text-anchor="start" fill="#231f20" stroke="#231f20" stroke-width="0.22">Atorvastatin</text>
<line x1="51.60" y1="561.30" x2="65.60" y2="561.30" stroke="#444444" stroke-width="1.7"/>
<circle cx="58.60" cy="561.30" r="2.6" fill="#6a6a6a" stroke="#333333" stroke-width="0.9"/>
<text transform="translate(68.60 564.90) scale(0.9 1)" font-size="9.44" text-anchor="start" fill="#231f20" stroke="#231f20" stroke-width="0.22">JQ1</text>
<line x1="51.60" y1="571.75" x2="65.60" y2="571.75" stroke="#3a739c" stroke-width="1.7"/>
<circle cx="58.60" cy="571.75" r="2.6" fill="#336e99" stroke="#1f4d70" stroke-width="0.9"/>
<text transform="translate(68.60 575.35) scale(0.9 1)" font-size="9.44" text-anchor="start" fill="#231f20" stroke="#231f20" stroke-width="0.22">Combo</text>
<line x1="195.20" y1="542.70" x2="195.20" y2="638.00" stroke="#4e4e4e" stroke-width="1.15"/>
<line x1="192.20" y1="638.00" x2="195.20" y2="638.00" stroke="#4e4e4e" stroke-width="1.15"/>
<text transform="translate(190.60 642.00) scale(0.86 1)" font-size="10.00" text-anchor="end" fill="#231f20" stroke="#231f20" stroke-width="0.22">0</text>
<line x1="192.20" y1="618.94" x2="195.20" y2="618.94" stroke="#4e4e4e" stroke-width="1.15"/>
<text transform="translate(190.60 622.94) scale(0.86 1)" font-size="10.00" text-anchor="end" fill="#231f20" stroke="#231f20" stroke-width="0.22">100</text>
<line x1="192.20" y1="599.88" x2="195.20" y2="599.88" stroke="#4e4e4e" stroke-width="1.15"/>
<text transform="translate(190.60 603.88) scale(0.86 1)" font-size="10.00" text-anchor="end" fill="#231f20" stroke="#231f20" stroke-width="0.22">200</text>
<line x1="192.20" y1="580.82" x2="195.20" y2="580.82" stroke="#4e4e4e" stroke-width="1.15"/>
<text transform="translate(190.60 584.82) scale(0.86 1)" font-size="10.00" text-anchor="end" fill="#231f20" stroke="#231f20" stroke-width="0.22">300</text>
<line x1="192.20" y1="561.76" x2="195.20" y2="561.76" stroke="#4e4e4e" stroke-width="1.15"/>
<text transform="translate(190.60 565.76) scale(0.86 1)" font-size="10.00" text-anchor="end" fill="#231f20" stroke="#231f20" stroke-width="0.22">400</text>
<line x1="192.20" y1="542.70" x2="195.20" y2="542.70" stroke="#4e4e4e" stroke-width="1.15"/>
<text transform="translate(190.60 546.70) scale(0.86 1)" font-size="10.00" text-anchor="end" fill="#231f20" stroke="#231f20" stroke-width="0.22">500</text>
<line x1="195.20" y1="638.00" x2="292.30" y2="638.00" stroke="#4e4e4e" stroke-width="1.15"/>
<line x1="202.50" y1="638.00" x2="202.50" y2="640.50" stroke="#4e4e4e" stroke-width="1.15"/>
<text transform="translate(202.50 650.20) scale(0.92 1)" font-size="9.35" text-anchor="middle" fill="#231f20" stroke="#231f20" stroke-width="0.22">9</text>
<line x1="217.50" y1="638.00" x2="217.50" y2="640.50" stroke="#4e4e4e" stroke-width="1.15"/>
<text transform="translate(217.50 650.20) scale(0.92 1)" font-size="9.35" text-anchor="middle" fill="#231f20" stroke="#231f20" stroke-width="0.22">11</text>
<line x1="232.50" y1="638.00" x2="232.50" y2="640.50" stroke="#4e4e4e" stroke-width="1.15"/>
<text transform="translate(232.50 650.20) scale(0.92 1)" font-size="9.35" text-anchor="middle" fill="#231f20" stroke="#231f20" stroke-width="0.22">13</text>
<line x1="247.00" y1="638.00" x2="247.00" y2="640.50" stroke="#4e4e4e" stroke-width="1.15"/>
<text transform="translate(247.00 650.20) scale(0.92 1)" font-size="9.35" text-anchor="middle" fill="#231f20" stroke="#231f20" stroke-width="0.22">15</text>
<line x1="262.50" y1="638.00" x2="262.50" y2="640.50" stroke="#4e4e4e" stroke-width="1.15"/>
<text transform="translate(262.50 650.20) scale(0.92 1)" font-size="9.35" text-anchor="middle" fill="#231f20" stroke="#231f20" stroke-width="0.22">17</text>
<line x1="276.80" y1="638.00" x2="276.80" y2="640.50" stroke="#4e4e4e" stroke-width="1.15"/>
<text transform="translate(276.80 650.20) scale(0.92 1)" font-size="9.35" text-anchor="middle" fill="#231f20" stroke="#231f20" stroke-width="0.22">19</text>
<line x1="291.30" y1="638.00" x2="291.30" y2="640.50" stroke="#4e4e4e" stroke-width="1.15"/>
<text transform="translate(291.30 650.20) scale(0.92 1)" font-size="9.35" text-anchor="middle" fill="#231f20" stroke="#231f20" stroke-width="0.22">21</text>
<text transform="translate(246.90 661.00) scale(0.88 1)" font-size="9.20" text-anchor="middle" fill="#231f20" stroke="#231f20" stroke-width="0.22">Days after inoculation</text>
<text transform="translate(243.60 529.30) scale(0.86 1)" font-size="10.81" text-anchor="middle" fill="#5f4a88" stroke="#5f4a88" stroke-width="0.22">2838c3</text>
<text transform="translate(171.80 590.35) rotate(-90) scale(1.0 1)" font-size="8.40" text-anchor="middle" fill="#231f20" stroke="#231f20" stroke-width="0.22">Tumor volume (mm<tspan font-size="65%" dy="-0.42em">3</tspan><tspan dy="0.273em">)</tspan></text>
<line x1="217.50" y1="620.66" x2="217.50" y2="628.28" stroke="#3a2866" stroke-width="0.85"/>
<line x1="214.90" y1="620.66" x2="220.10" y2="620.66" stroke="#3a2866" stroke-width="0.85"/>
<line x1="214.90" y1="628.28" x2="220.10" y2="628.28" stroke="#3a2866" stroke-width="0.85"/>
<line x1="232.50" y1="619.89" x2="232.50" y2="627.52" stroke="#3a2866" stroke-width="0.85"/>
<line x1="229.90" y1="619.89" x2="235.10" y2="619.89" stroke="#3a2866" stroke-width="0.85"/>
<line x1="229.90" y1="627.52" x2="235.10" y2="627.52" stroke="#3a2866" stroke-width="0.85"/>
<line x1="247.00" y1="624.66" x2="247.00" y2="630.38" stroke="#3a2866" stroke-width="0.85"/>
<line x1="244.40" y1="624.66" x2="249.60" y2="624.66" stroke="#3a2866" stroke-width="0.85"/>
<line x1="244.40" y1="630.38" x2="249.60" y2="630.38" stroke="#3a2866" stroke-width="0.85"/>
<line x1="262.50" y1="620.85" x2="262.50" y2="626.56" stroke="#3a2866" stroke-width="0.85"/>
<line x1="259.90" y1="620.85" x2="265.10" y2="620.85" stroke="#3a2866" stroke-width="0.85"/>
<line x1="259.90" y1="626.56" x2="265.10" y2="626.56" stroke="#3a2866" stroke-width="0.85"/>
<line x1="276.80" y1="624.66" x2="276.80" y2="630.38" stroke="#3a2866" stroke-width="0.85"/>
<line x1="274.20" y1="624.66" x2="279.40" y2="624.66" stroke="#3a2866" stroke-width="0.85"/>
<line x1="274.20" y1="630.38" x2="279.40" y2="630.38" stroke="#3a2866" stroke-width="0.85"/>
<line x1="291.30" y1="611.32" x2="291.30" y2="624.66" stroke="#3a2866" stroke-width="0.85"/>
<line x1="288.70" y1="611.32" x2="293.90" y2="611.32" stroke="#3a2866" stroke-width="0.85"/>
<line x1="288.70" y1="624.66" x2="293.90" y2="624.66" stroke="#3a2866" stroke-width="0.85"/>
<line x1="217.50" y1="621.42" x2="217.50" y2="630.95" stroke="#333333" stroke-width="0.85"/>
<line x1="214.90" y1="621.42" x2="220.10" y2="621.42" stroke="#333333" stroke-width="0.85"/>
<line x1="214.90" y1="630.95" x2="220.10" y2="630.95" stroke="#333333" stroke-width="0.85"/>
<line x1="232.50" y1="619.70" x2="232.50" y2="629.23" stroke="#333333" stroke-width="0.85"/>
<line x1="229.90" y1="619.70" x2="235.10" y2="619.70" stroke="#333333" stroke-width="0.85"/>
<line x1="229.90" y1="629.23" x2="235.10" y2="629.23" stroke="#333333" stroke-width="0.85"/>
<line x1="247.00" y1="626.18" x2="247.00" y2="633.81" stroke="#333333" stroke-width="0.85"/>
<line x1="244.40" y1="626.18" x2="249.60" y2="626.18" stroke="#333333" stroke-width="0.85"/>
<line x1="244.40" y1="633.81" x2="249.60" y2="633.81" stroke="#333333" stroke-width="0.85"/>
<line x1="262.50" y1="618.75" x2="262.50" y2="626.37" stroke="#333333" stroke-width="0.85"/>
<line x1="259.90" y1="618.75" x2="265.10" y2="618.75" stroke="#333333" stroke-width="0.85"/>
<line x1="259.90" y1="626.37" x2="265.10" y2="626.37" stroke="#333333" stroke-width="0.85"/>
<line x1="276.80" y1="598.55" x2="276.80" y2="617.61" stroke="#333333" stroke-width="0.85"/>
<line x1="274.20" y1="598.55" x2="279.40" y2="598.55" stroke="#333333" stroke-width="0.85"/>
<line x1="274.20" y1="617.61" x2="279.40" y2="617.61" stroke="#333333" stroke-width="0.85"/>
<line x1="291.30" y1="596.45" x2="291.30" y2="602.17" stroke="#333333" stroke-width="0.85"/>
<line x1="288.70" y1="596.45" x2="293.90" y2="596.45" stroke="#333333" stroke-width="0.85"/>
<line x1="288.70" y1="602.17" x2="293.90" y2="602.17" stroke="#333333" stroke-width="0.85"/>
<line x1="217.50" y1="616.46" x2="217.50" y2="625.99" stroke="#8a8a8a" stroke-width="0.85"/>
<line x1="214.90" y1="616.46" x2="220.10" y2="616.46" stroke="#8a8a8a" stroke-width="0.85"/>
<line x1="214.90" y1="625.99" x2="220.10" y2="625.99" stroke="#8a8a8a" stroke-width="0.85"/>
<line x1="232.50" y1="599.12" x2="232.50" y2="618.18" stroke="#8a8a8a" stroke-width="0.85"/>
<line x1="229.90" y1="599.12" x2="235.10" y2="599.12" stroke="#8a8a8a" stroke-width="0.85"/>
<line x1="229.90" y1="618.18" x2="235.10" y2="618.18" stroke="#8a8a8a" stroke-width="0.85"/>
<line x1="247.00" y1="588.44" x2="247.00" y2="611.32" stroke="#8a8a8a" stroke-width="0.85"/>
<line x1="244.40" y1="588.44" x2="249.60" y2="588.44" stroke="#8a8a8a" stroke-width="0.85"/>
<line x1="244.40" y1="611.32" x2="249.60" y2="611.32" stroke="#8a8a8a" stroke-width="0.85"/>
<line x1="262.50" y1="595.50" x2="262.50" y2="606.93" stroke="#8a8a8a" stroke-width="0.85"/>
<line x1="259.90" y1="595.50" x2="265.10" y2="595.50" stroke="#8a8a8a" stroke-width="0.85"/>
<line x1="259.90" y1="606.93" x2="265.10" y2="606.93" stroke="#8a8a8a" stroke-width="0.85"/>
<line x1="276.80" y1="597.21" x2="276.80" y2="608.65" stroke="#8a8a8a" stroke-width="0.85"/>
<line x1="274.20" y1="597.21" x2="279.40" y2="597.21" stroke="#8a8a8a" stroke-width="0.85"/>
<line x1="274.20" y1="608.65" x2="279.40" y2="608.65" stroke="#8a8a8a" stroke-width="0.85"/>
<line x1="291.30" y1="579.10" x2="291.30" y2="592.45" stroke="#8a8a8a" stroke-width="0.85"/>
<line x1="288.70" y1="579.10" x2="293.90" y2="579.10" stroke="#8a8a8a" stroke-width="0.85"/>
<line x1="288.70" y1="592.45" x2="293.90" y2="592.45" stroke="#8a8a8a" stroke-width="0.85"/>
<line x1="217.50" y1="613.22" x2="217.50" y2="620.85" stroke="#555" stroke-width="0.85"/>
<line x1="214.90" y1="613.22" x2="220.10" y2="613.22" stroke="#555" stroke-width="0.85"/>
<line x1="214.90" y1="620.85" x2="220.10" y2="620.85" stroke="#555" stroke-width="0.85"/>
<line x1="232.50" y1="613.98" x2="232.50" y2="623.51" stroke="#555" stroke-width="0.85"/>
<line x1="229.90" y1="613.98" x2="235.10" y2="613.98" stroke="#555" stroke-width="0.85"/>
<line x1="229.90" y1="623.51" x2="235.10" y2="623.51" stroke="#555" stroke-width="0.85"/>
<line x1="247.00" y1="606.17" x2="247.00" y2="613.79" stroke="#555" stroke-width="0.85"/>
<line x1="244.40" y1="606.17" x2="249.60" y2="606.17" stroke="#555" stroke-width="0.85"/>
<line x1="244.40" y1="613.79" x2="249.60" y2="613.79" stroke="#555" stroke-width="0.85"/>
<line x1="262.50" y1="598.93" x2="262.50" y2="608.46" stroke="#555" stroke-width="0.85"/>
<line x1="259.90" y1="598.93" x2="265.10" y2="598.93" stroke="#555" stroke-width="0.85"/>
<line x1="259.90" y1="608.46" x2="265.10" y2="608.46" stroke="#555" stroke-width="0.85"/>
<line x1="276.80" y1="581.39" x2="276.80" y2="598.55" stroke="#555" stroke-width="0.85"/>
<line x1="274.20" y1="581.39" x2="279.40" y2="581.39" stroke="#555" stroke-width="0.85"/>
<line x1="274.20" y1="598.55" x2="279.40" y2="598.55" stroke="#555" stroke-width="0.85"/>
<line x1="291.30" y1="546.51" x2="291.30" y2="580.82" stroke="#555" stroke-width="0.85"/>
<line x1="288.70" y1="546.51" x2="293.90" y2="546.51" stroke="#555" stroke-width="0.85"/>
<line x1="288.70" y1="580.82" x2="293.90" y2="580.82" stroke="#555" stroke-width="0.85"/>
<path d="M202.50 637.05 L217.50 624.47 L232.50 623.71 L247.00 627.52 L262.50 623.71 L276.80 627.52 L291.30 617.99" stroke="#5d4a8e" stroke-width="1.15" fill="none"/>
<circle cx="202.50" cy="637.05" r="2.7" fill="#5e4592" stroke="#3a2866" stroke-width="0.9"/>
<circle cx="217.50" cy="624.47" r="2.7" fill="#5e4592" stroke="#3a2866" stroke-width="0.9"/>
<circle cx="232.50" cy="623.71" r="2.7" fill="#5e4592" stroke="#3a2866" stroke-width="0.9"/>
<circle cx="247.00" cy="627.52" r="2.7" fill="#5e4592" stroke="#3a2866" stroke-width="0.9"/>
<circle cx="262.50" cy="623.71" r="2.7" fill="#5e4592" stroke="#3a2866" stroke-width="0.9"/>
<circle cx="276.80" cy="627.52" r="2.7" fill="#5e4592" stroke="#3a2866" stroke-width="0.9"/>
<circle cx="291.30" cy="617.99" r="2.7" fill="#5e4592" stroke="#3a2866" stroke-width="0.9"/>
<path d="M202.50 637.05 L217.50 626.18 L232.50 624.47 L247.00 629.99 L262.50 622.56 L276.80 608.08 L291.30 599.31" stroke="#444444" stroke-width="1.15" fill="none"/>
<circle cx="202.50" cy="637.05" r="2.7" fill="#6a6a6a" stroke="#333333" stroke-width="0.9"/>
<circle cx="217.50" cy="626.18" r="2.7" fill="#6a6a6a" stroke="#333333" stroke-width="0.9"/>
<circle cx="232.50" cy="624.47" r="2.7" fill="#6a6a6a" stroke="#333333" stroke-width="0.9"/>
<circle cx="247.00" cy="629.99" r="2.7" fill="#6a6a6a" stroke="#333333" stroke-width="0.9"/>
<circle cx="262.50" cy="622.56" r="2.7" fill="#6a6a6a" stroke="#333333" stroke-width="0.9"/>
<circle cx="276.80" cy="608.08" r="2.7" fill="#6a6a6a" stroke="#333333" stroke-width="0.9"/>
<circle cx="291.30" cy="599.31" r="2.7" fill="#6a6a6a" stroke="#333333" stroke-width="0.9"/>
<path d="M202.50 637.05 L217.50 621.23 L232.50 608.65 L247.00 599.88 L262.50 601.21 L276.80 602.93 L291.30 585.78" stroke="#9a9a9a" stroke-width="1.15" fill="none"/>
<circle cx="202.50" cy="637.05" r="2.7" fill="#e2e2e2" stroke="#8a8a8a" stroke-width="0.9"/>
<circle cx="217.50" cy="621.23" r="2.7" fill="#e2e2e2" stroke="#8a8a8a" stroke-width="0.9"/>
<circle cx="232.50" cy="608.65" r="2.7" fill="#e2e2e2" stroke="#8a8a8a" stroke-width="0.9"/>
<circle cx="247.00" cy="599.88" r="2.7" fill="#e2e2e2" stroke="#8a8a8a" stroke-width="0.9"/>
<circle cx="262.50" cy="601.21" r="2.7" fill="#e2e2e2" stroke="#8a8a8a" stroke-width="0.9"/>
<circle cx="276.80" cy="602.93" r="2.7" fill="#e2e2e2" stroke="#8a8a8a" stroke-width="0.9"/>
<circle cx="291.30" cy="585.78" r="2.7" fill="#e2e2e2" stroke="#8a8a8a" stroke-width="0.9"/>
<path d="M202.50 637.05 L217.50 617.03 L232.50 618.75 L247.00 609.98 L262.50 603.69 L276.80 589.97 L291.30 563.67" stroke="#1a1a1a" stroke-width="1.15" fill="none"/>
<circle cx="202.50" cy="637.05" r="2.7" fill="#1a1a1a" stroke="#1a1a1a" stroke-width="0.9"/>
<circle cx="217.50" cy="617.03" r="2.7" fill="#1a1a1a" stroke="#1a1a1a" stroke-width="0.9"/>
<circle cx="232.50" cy="618.75" r="2.7" fill="#1a1a1a" stroke="#1a1a1a" stroke-width="0.9"/>
<circle cx="247.00" cy="609.98" r="2.7" fill="#1a1a1a" stroke="#1a1a1a" stroke-width="0.9"/>
<circle cx="262.50" cy="603.69" r="2.7" fill="#1a1a1a" stroke="#1a1a1a" stroke-width="0.9"/>
<circle cx="276.80" cy="589.97" r="2.7" fill="#1a1a1a" stroke="#1a1a1a" stroke-width="0.9"/>
<circle cx="291.30" cy="563.67" r="2.7" fill="#1a1a1a" stroke="#1a1a1a" stroke-width="0.9"/>
<line x1="201.50" y1="540.40" x2="215.50" y2="540.40" stroke="#1a1a1a" stroke-width="1.7"/>
<circle cx="208.50" cy="540.40" r="2.6" fill="#1a1a1a" stroke="#1a1a1a" stroke-width="0.9"/>
<text transform="translate(218.50 544.00) scale(0.9 1)" font-size="9.44" text-anchor="start" fill="#231f20" stroke="#231f20" stroke-width="0.22">Vehicle</text>
<line x1="201.50" y1="550.85" x2="215.50" y2="550.85" stroke="#9a9a9a" stroke-width="1.7"/>
<circle cx="208.50" cy="550.85" r="2.6" fill="#e2e2e2" stroke="#8a8a8a" stroke-width="0.9"/>
<text transform="translate(218.50 554.45) scale(0.9 1)" font-size="9.44" text-anchor="start" fill="#231f20" stroke="#231f20" stroke-width="0.22">Atorvastatin</text>
<line x1="201.50" y1="561.30" x2="215.50" y2="561.30" stroke="#444444" stroke-width="1.7"/>
<circle cx="208.50" cy="561.30" r="2.6" fill="#6a6a6a" stroke="#333333" stroke-width="0.9"/>
<text transform="translate(218.50 564.90) scale(0.9 1)" font-size="9.44" text-anchor="start" fill="#231f20" stroke="#231f20" stroke-width="0.22">JQ1</text>
<line x1="201.50" y1="571.75" x2="215.50" y2="571.75" stroke="#5d4a8e" stroke-width="1.7"/>
<circle cx="208.50" cy="571.75" r="2.6" fill="#5e4592" stroke="#3a2866" stroke-width="0.9"/>
<text transform="translate(218.50 575.35) scale(0.9 1)" font-size="9.44" text-anchor="start" fill="#231f20" stroke="#231f20" stroke-width="0.22">Combo</text>
<path d="M 297.5 563.8 L 301.8 563.8 L 301.8 618.0 L 297.5 618.0" stroke="#333" stroke-width="0.9" fill="none"/>
<text transform="translate(305.40 597.00) scale(1.0 1)" font-size="10.50" text-anchor="middle" fill="#231f20" stroke="#231f20" stroke-width="0.22">*</text>
<text transform="translate(310.20 531.20) scale(0.86 1)" font-size="14.30" text-anchor="start" fill="#231f20" stroke="#231f20" stroke-width="0.22" font-weight="bold">G</text>
<line x1="353.20" y1="541.90" x2="353.20" y2="637.60" stroke="#4e4e4e" stroke-width="1.15"/>
<line x1="350.20" y1="637.60" x2="353.20" y2="637.60" stroke="#4e4e4e" stroke-width="1.15"/>
<text transform="translate(347.20 641.60) scale(0.86 1)" font-size="9.77" text-anchor="end" fill="#231f20" stroke="#231f20" stroke-width="0.22">0</text>
<line x1="350.20" y1="605.70" x2="353.20" y2="605.70" stroke="#4e4e4e" stroke-width="1.15"/>
<text transform="translate(347.20 609.70) scale(0.86 1)" font-size="9.77" text-anchor="end" fill="#231f20" stroke="#231f20" stroke-width="0.22">100</text>
<line x1="350.20" y1="573.80" x2="353.20" y2="573.80" stroke="#4e4e4e" stroke-width="1.15"/>
<text transform="translate(347.20 577.80) scale(0.86 1)" font-size="9.77" text-anchor="end" fill="#231f20" stroke="#231f20" stroke-width="0.22">200</text>
<line x1="350.20" y1="541.90" x2="353.20" y2="541.90" stroke="#4e4e4e" stroke-width="1.15"/>
<text transform="translate(347.20 545.90) scale(0.86 1)" font-size="9.77" text-anchor="end" fill="#231f20" stroke="#231f20" stroke-width="0.22">300</text>
<line x1="353.20" y1="637.60" x2="465.40" y2="637.60" stroke="#4e4e4e" stroke-width="1.15"/>
<line x1="363.50" y1="572.30" x2="363.50" y2="550.40" stroke="#333" stroke-width="0.8"/>
<line x1="361.10" y1="550.40" x2="365.90" y2="550.40" stroke="#333" stroke-width="0.8"/>
<rect x="358.90" y="572.70" width="9.20" height="64.90" fill="#ffffff" stroke="#3a3a3a" stroke-width="0.8"/>
<line x1="374.55" y1="595.40" x2="374.55" y2="582.20" stroke="#333" stroke-width="0.8"/>
<line x1="372.15" y1="582.20" x2="376.95" y2="582.20" stroke="#333" stroke-width="0.8"/>
<rect x="370.00" y="595.80" width="9.10" height="41.80" fill="#c6c6c6" stroke="#606060" stroke-width="0.8"/>
<line x1="386.00" y1="598.20" x2="386.00" y2="589.20" stroke="#333" stroke-width="0.8"/>
<line x1="383.60" y1="589.20" x2="388.40" y2="589.20" stroke="#333" stroke-width="0.8"/>
<rect x="381.60" y="598.60" width="8.80" height="39.00" fill="#565656" stroke="#333333" stroke-width="0.8"/>
<line x1="397.20" y1="577.60" x2="397.20" y2="561.90" stroke="#333" stroke-width="0.8"/>
<line x1="394.80" y1="561.90" x2="399.60" y2="561.90" stroke="#333" stroke-width="0.8"/>
<rect x="392.40" y="578.00" width="9.60" height="59.60" fill="#1f78c1" stroke="#15507f" stroke-width="0.8"/>
<line x1="421.20" y1="565.40" x2="421.20" y2="545.10" stroke="#333" stroke-width="0.8"/>
<line x1="418.80" y1="545.10" x2="423.60" y2="545.10" stroke="#333" stroke-width="0.8"/>
<rect x="416.60" y="565.80" width="9.20" height="71.80" fill="#ffffff" stroke="#3a3a3a" stroke-width="0.8"/>
<line x1="432.25" y1="582.20" x2="432.25" y2="577.40" stroke="#333" stroke-width="0.8"/>
<line x1="429.85" y1="577.40" x2="434.65" y2="577.40" stroke="#333" stroke-width="0.8"/>
<rect x="427.70" y="582.60" width="9.10" height="55.00" fill="#c6c6c6" stroke="#606060" stroke-width="0.8"/>
<line x1="444.05" y1="593.80" x2="444.05" y2="578.50" stroke="#333" stroke-width="0.8"/>
<line x1="441.65" y1="578.50" x2="446.45" y2="578.50" stroke="#333" stroke-width="0.8"/>
<rect x="439.70" y="594.20" width="8.70" height="43.40" fill="#565656" stroke="#333333" stroke-width="0.8"/>
<line x1="455.00" y1="619.20" x2="455.00" y2="612.70" stroke="#333" stroke-width="0.8"/>
<line x1="452.60" y1="612.70" x2="457.40" y2="612.70" stroke="#333" stroke-width="0.8"/>
<rect x="450.80" y="619.60" width="8.40" height="18.00" fill="#6a2f9c" stroke="#3d1a5a" stroke-width="0.8"/>
<text transform="translate(455.00 613.20) scale(1.0 1)" font-size="10.50" text-anchor="middle" fill="#231f20" stroke="#231f20" stroke-width="0.22">*</text>
<text transform="translate(380.60 647.80) scale(0.86 1)" font-size="9.77" text-anchor="middle" fill="#4581b2" stroke="#4581b2" stroke-width="0.22">6418c5</text>
<text transform="translate(438.30 647.80) scale(0.86 1)" font-size="9.77" text-anchor="middle" fill="#5f4a88" stroke="#5f4a88" stroke-width="0.22">2838c3</text>
<text transform="translate(330.60 590.00) rotate(-90) scale(1.0 1)" font-size="9.30" text-anchor="middle" fill="#231f20" stroke="#231f20" stroke-width="0.22">Tumor weight (mg)</text>
<defs><linearGradient id="cg" x1="0" y1="0" x2="1" y2="1"><stop offset="0.1" stop-color="#1f78c1"/><stop offset="0.9" stop-color="#652d90"/></linearGradient></defs>
<rect x="453.40" y="522.90" width="7.60" height="7.40" fill="#ffffff" stroke="#555" stroke-width="0.7"/>
<text transform="translate(462.30 529.40) scale(0.86 1)" font-size="9.53" text-anchor="start" fill="#231f20" stroke="#231f20" stroke-width="0.22">Vehicle</text>
<rect x="453.40" y="533.10" width="7.60" height="7.40" fill="#c6c6c6" stroke="#777" stroke-width="0.7"/>
<text transform="translate(462.30 539.60) scale(0.86 1)" font-size="9.53" text-anchor="start" fill="#231f20" stroke="#231f20" stroke-width="0.22">Atorvastatin</text>
<rect x="453.40" y="543.30" width="7.60" height="7.40" fill="#565656" stroke="#333" stroke-width="0.7"/>
<text transform="translate(462.30 549.80) scale(0.86 1)" font-size="9.53" text-anchor="start" fill="#231f20" stroke="#231f20" stroke-width="0.22">JQ1</text>
<rect x="453.40" y="553.50" width="7.60" height="7.40" fill="url(#cg)" stroke="#333" stroke-width="0.7"/>
<text transform="translate(462.30 560.00) scale(0.86 1)" font-size="9.53" text-anchor="start" fill="#231f20" stroke="#231f20" stroke-width="0.22">Combo</text>
</svg>
</body></html>
